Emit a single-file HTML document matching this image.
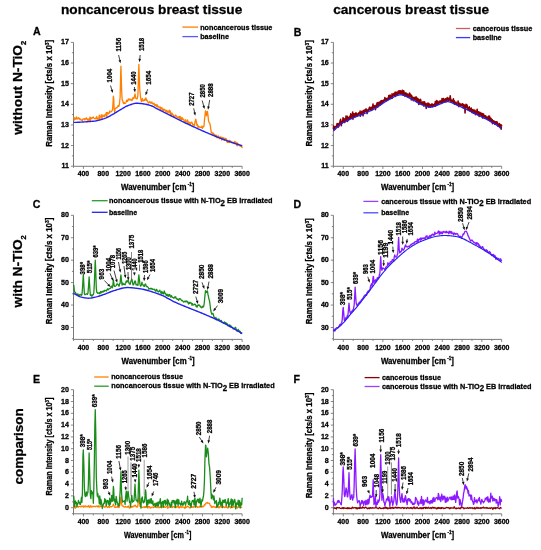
<!DOCTYPE html><html><head><meta charset="utf-8"><style>html,body{margin:0;padding:0;background:#fff}svg{display:block;will-change:transform;filter:blur(0.3px)}text{font-family:"Liberation Sans", sans-serif;stroke:#000;stroke-width:0.28px;paint-order:stroke}</style></head><body>
<svg width="541" height="550" viewBox="0 0 541 550">
<rect width="541" height="550" fill="#fff"/>
<text x="61" y="13.9" font-size="12.9" font-weight="bold" fill="#000" textLength="181.3" lengthAdjust="spacingAndGlyphs">noncancerous breast tissue</text>
<text x="333.2" y="13.9" font-size="12.9" font-weight="bold" fill="#000" textLength="156" lengthAdjust="spacingAndGlyphs">cancerous breast tissue</text>
<text transform="translate(22.4 134.7) rotate(-90)" font-size="13.3" font-weight="bold" textLength="94" lengthAdjust="spacingAndGlyphs">without N-TiO<tspan dy="3.4" font-size="7.4">2</tspan></text>
<text transform="translate(22.4 307.5) rotate(-90)" font-size="13.3" font-weight="bold" textLength="72.3" lengthAdjust="spacingAndGlyphs">with N-TiO<tspan dy="3.4" font-size="7.4">2</tspan></text>
<text transform="translate(22.6 484.5) rotate(-90)" font-size="13.5" font-weight="bold" textLength="76.3" lengthAdjust="spacingAndGlyphs">comparison</text>
<text x="32.9" y="35" font-size="10.6" text-anchor="start" font-weight="bold" fill="#000" >A</text>
<text x="293.7" y="35.5" font-size="10.6" text-anchor="start" font-weight="bold" fill="#000" >B</text>
<text x="32.7" y="208.2" font-size="10.6" text-anchor="start" font-weight="bold" fill="#000" >C</text>
<text x="293.5" y="208.4" font-size="10.6" text-anchor="start" font-weight="bold" fill="#000" >D</text>
<text x="33.1" y="382.9" font-size="10.6" text-anchor="start" font-weight="bold" fill="#000" >E</text>
<text x="293.5" y="382.7" font-size="10.6" text-anchor="start" font-weight="bold" fill="#000" >F</text>
<line x1="73.5" y1="42.4" x2="73.5" y2="166.3" stroke="#6a6a6a" stroke-width="0.9" />
<line x1="73.5" y1="166.3" x2="242.14" y2="166.3" stroke="#6a6a6a" stroke-width="0.9" />
<line x1="73.5" y1="166.3" x2="73.5" y2="167.9" stroke="#6a6a6a" stroke-width="0.8" />
<line x1="83.42" y1="166.3" x2="83.42" y2="168.9" stroke="#6a6a6a" stroke-width="0.8" />
<line x1="93.34" y1="166.3" x2="93.34" y2="167.9" stroke="#6a6a6a" stroke-width="0.8" />
<line x1="103.26" y1="166.3" x2="103.26" y2="168.9" stroke="#6a6a6a" stroke-width="0.8" />
<line x1="113.18" y1="166.3" x2="113.18" y2="167.9" stroke="#6a6a6a" stroke-width="0.8" />
<line x1="123.1" y1="166.3" x2="123.1" y2="168.9" stroke="#6a6a6a" stroke-width="0.8" />
<line x1="133.02" y1="166.3" x2="133.02" y2="167.9" stroke="#6a6a6a" stroke-width="0.8" />
<line x1="142.94" y1="166.3" x2="142.94" y2="168.9" stroke="#6a6a6a" stroke-width="0.8" />
<line x1="152.86" y1="166.3" x2="152.86" y2="167.9" stroke="#6a6a6a" stroke-width="0.8" />
<line x1="162.78" y1="166.3" x2="162.78" y2="168.9" stroke="#6a6a6a" stroke-width="0.8" />
<line x1="172.7" y1="166.3" x2="172.7" y2="167.9" stroke="#6a6a6a" stroke-width="0.8" />
<line x1="182.62" y1="166.3" x2="182.62" y2="168.9" stroke="#6a6a6a" stroke-width="0.8" />
<line x1="192.54" y1="166.3" x2="192.54" y2="167.9" stroke="#6a6a6a" stroke-width="0.8" />
<line x1="202.46" y1="166.3" x2="202.46" y2="168.9" stroke="#6a6a6a" stroke-width="0.8" />
<line x1="212.38" y1="166.3" x2="212.38" y2="167.9" stroke="#6a6a6a" stroke-width="0.8" />
<line x1="222.3" y1="166.3" x2="222.3" y2="168.9" stroke="#6a6a6a" stroke-width="0.8" />
<line x1="232.22" y1="166.3" x2="232.22" y2="167.9" stroke="#6a6a6a" stroke-width="0.8" />
<line x1="242.14" y1="166.3" x2="242.14" y2="168.9" stroke="#6a6a6a" stroke-width="0.8" />
<text x="83.42" y="176.2" font-size="6.95" text-anchor="middle" font-weight="bold" fill="#000" >400</text>
<text x="103.26" y="176.2" font-size="6.95" text-anchor="middle" font-weight="bold" fill="#000" >800</text>
<text x="123.1" y="176.2" font-size="6.95" text-anchor="middle" font-weight="bold" fill="#000" >1200</text>
<text x="142.94" y="176.2" font-size="6.95" text-anchor="middle" font-weight="bold" fill="#000" >1600</text>
<text x="162.78" y="176.2" font-size="6.95" text-anchor="middle" font-weight="bold" fill="#000" >2000</text>
<text x="182.62" y="176.2" font-size="6.95" text-anchor="middle" font-weight="bold" fill="#000" >2400</text>
<text x="202.46" y="176.2" font-size="6.95" text-anchor="middle" font-weight="bold" fill="#000" >2800</text>
<text x="222.3" y="176.2" font-size="6.95" text-anchor="middle" font-weight="bold" fill="#000" >3200</text>
<text x="242.14" y="176.2" font-size="6.95" text-anchor="middle" font-weight="bold" fill="#000" >3600</text>
<line x1="73.5" y1="155.86" x2="71.9" y2="155.86" stroke="#6a6a6a" stroke-width="0.8" />
<line x1="73.5" y1="135.23" x2="71.9" y2="135.23" stroke="#6a6a6a" stroke-width="0.8" />
<line x1="73.5" y1="114.6" x2="71.9" y2="114.6" stroke="#6a6a6a" stroke-width="0.8" />
<line x1="73.5" y1="93.97" x2="71.9" y2="93.97" stroke="#6a6a6a" stroke-width="0.8" />
<line x1="73.5" y1="73.34" x2="71.9" y2="73.34" stroke="#6a6a6a" stroke-width="0.8" />
<line x1="73.5" y1="52.71" x2="71.9" y2="52.71" stroke="#6a6a6a" stroke-width="0.8" />
<line x1="73.5" y1="166.18" x2="70.9" y2="166.18" stroke="#6a6a6a" stroke-width="0.8" />
<text x="68.9" y="168.18" font-size="7.1" text-anchor="end" font-weight="bold" fill="#000" >11</text>
<line x1="73.5" y1="145.55" x2="70.9" y2="145.55" stroke="#6a6a6a" stroke-width="0.8" />
<text x="68.9" y="147.55" font-size="7.1" text-anchor="end" font-weight="bold" fill="#000" >12</text>
<line x1="73.5" y1="124.92" x2="70.9" y2="124.92" stroke="#6a6a6a" stroke-width="0.8" />
<text x="68.9" y="126.92" font-size="7.1" text-anchor="end" font-weight="bold" fill="#000" >13</text>
<line x1="73.5" y1="104.29" x2="70.9" y2="104.29" stroke="#6a6a6a" stroke-width="0.8" />
<text x="68.9" y="106.29" font-size="7.1" text-anchor="end" font-weight="bold" fill="#000" >14</text>
<line x1="73.5" y1="83.66" x2="70.9" y2="83.66" stroke="#6a6a6a" stroke-width="0.8" />
<text x="68.9" y="85.66" font-size="7.1" text-anchor="end" font-weight="bold" fill="#000" >15</text>
<line x1="73.5" y1="63.03" x2="70.9" y2="63.03" stroke="#6a6a6a" stroke-width="0.8" />
<text x="68.9" y="65.03" font-size="7.1" text-anchor="end" font-weight="bold" fill="#000" >16</text>
<line x1="73.5" y1="42.4" x2="70.9" y2="42.4" stroke="#6a6a6a" stroke-width="0.8" />
<text x="68.9" y="44.4" font-size="7.1" text-anchor="end" font-weight="bold" fill="#000" >17</text>
<line x1="333.4" y1="42.4" x2="333.4" y2="166.3" stroke="#6a6a6a" stroke-width="0.9" />
<line x1="333.4" y1="166.3" x2="501.67" y2="166.3" stroke="#6a6a6a" stroke-width="0.9" />
<line x1="333.4" y1="166.3" x2="333.4" y2="167.9" stroke="#6a6a6a" stroke-width="0.8" />
<line x1="343.3" y1="166.3" x2="343.3" y2="168.9" stroke="#6a6a6a" stroke-width="0.8" />
<line x1="353.2" y1="166.3" x2="353.2" y2="167.9" stroke="#6a6a6a" stroke-width="0.8" />
<line x1="363.09" y1="166.3" x2="363.09" y2="168.9" stroke="#6a6a6a" stroke-width="0.8" />
<line x1="372.99" y1="166.3" x2="372.99" y2="167.9" stroke="#6a6a6a" stroke-width="0.8" />
<line x1="382.89" y1="166.3" x2="382.89" y2="168.9" stroke="#6a6a6a" stroke-width="0.8" />
<line x1="392.79" y1="166.3" x2="392.79" y2="167.9" stroke="#6a6a6a" stroke-width="0.8" />
<line x1="402.69" y1="166.3" x2="402.69" y2="168.9" stroke="#6a6a6a" stroke-width="0.8" />
<line x1="412.58" y1="166.3" x2="412.58" y2="167.9" stroke="#6a6a6a" stroke-width="0.8" />
<line x1="422.48" y1="166.3" x2="422.48" y2="168.9" stroke="#6a6a6a" stroke-width="0.8" />
<line x1="432.38" y1="166.3" x2="432.38" y2="167.9" stroke="#6a6a6a" stroke-width="0.8" />
<line x1="442.28" y1="166.3" x2="442.28" y2="168.9" stroke="#6a6a6a" stroke-width="0.8" />
<line x1="452.18" y1="166.3" x2="452.18" y2="167.9" stroke="#6a6a6a" stroke-width="0.8" />
<line x1="462.07" y1="166.3" x2="462.07" y2="168.9" stroke="#6a6a6a" stroke-width="0.8" />
<line x1="471.97" y1="166.3" x2="471.97" y2="167.9" stroke="#6a6a6a" stroke-width="0.8" />
<line x1="481.87" y1="166.3" x2="481.87" y2="168.9" stroke="#6a6a6a" stroke-width="0.8" />
<line x1="491.77" y1="166.3" x2="491.77" y2="167.9" stroke="#6a6a6a" stroke-width="0.8" />
<line x1="501.67" y1="166.3" x2="501.67" y2="168.9" stroke="#6a6a6a" stroke-width="0.8" />
<text x="343.3" y="176.2" font-size="6.95" text-anchor="middle" font-weight="bold" fill="#000" >400</text>
<text x="363.09" y="176.2" font-size="6.95" text-anchor="middle" font-weight="bold" fill="#000" >800</text>
<text x="382.89" y="176.2" font-size="6.95" text-anchor="middle" font-weight="bold" fill="#000" >1200</text>
<text x="402.69" y="176.2" font-size="6.95" text-anchor="middle" font-weight="bold" fill="#000" >1600</text>
<text x="422.48" y="176.2" font-size="6.95" text-anchor="middle" font-weight="bold" fill="#000" >2000</text>
<text x="442.28" y="176.2" font-size="6.95" text-anchor="middle" font-weight="bold" fill="#000" >2400</text>
<text x="462.07" y="176.2" font-size="6.95" text-anchor="middle" font-weight="bold" fill="#000" >2800</text>
<text x="481.87" y="176.2" font-size="6.95" text-anchor="middle" font-weight="bold" fill="#000" >3200</text>
<text x="501.67" y="176.2" font-size="6.95" text-anchor="middle" font-weight="bold" fill="#000" >3600</text>
<line x1="333.4" y1="155.86" x2="331.8" y2="155.86" stroke="#6a6a6a" stroke-width="0.8" />
<line x1="333.4" y1="135.23" x2="331.8" y2="135.23" stroke="#6a6a6a" stroke-width="0.8" />
<line x1="333.4" y1="114.6" x2="331.8" y2="114.6" stroke="#6a6a6a" stroke-width="0.8" />
<line x1="333.4" y1="93.97" x2="331.8" y2="93.97" stroke="#6a6a6a" stroke-width="0.8" />
<line x1="333.4" y1="73.34" x2="331.8" y2="73.34" stroke="#6a6a6a" stroke-width="0.8" />
<line x1="333.4" y1="52.71" x2="331.8" y2="52.71" stroke="#6a6a6a" stroke-width="0.8" />
<line x1="333.4" y1="166.18" x2="330.8" y2="166.18" stroke="#6a6a6a" stroke-width="0.8" />
<text x="328.8" y="168.18" font-size="7.1" text-anchor="end" font-weight="bold" fill="#000" >11</text>
<line x1="333.4" y1="145.55" x2="330.8" y2="145.55" stroke="#6a6a6a" stroke-width="0.8" />
<text x="328.8" y="147.55" font-size="7.1" text-anchor="end" font-weight="bold" fill="#000" >12</text>
<line x1="333.4" y1="124.92" x2="330.8" y2="124.92" stroke="#6a6a6a" stroke-width="0.8" />
<text x="328.8" y="126.92" font-size="7.1" text-anchor="end" font-weight="bold" fill="#000" >13</text>
<line x1="333.4" y1="104.29" x2="330.8" y2="104.29" stroke="#6a6a6a" stroke-width="0.8" />
<text x="328.8" y="106.29" font-size="7.1" text-anchor="end" font-weight="bold" fill="#000" >14</text>
<line x1="333.4" y1="83.66" x2="330.8" y2="83.66" stroke="#6a6a6a" stroke-width="0.8" />
<text x="328.8" y="85.66" font-size="7.1" text-anchor="end" font-weight="bold" fill="#000" >15</text>
<line x1="333.4" y1="63.03" x2="330.8" y2="63.03" stroke="#6a6a6a" stroke-width="0.8" />
<text x="328.8" y="65.03" font-size="7.1" text-anchor="end" font-weight="bold" fill="#000" >16</text>
<line x1="333.4" y1="42.4" x2="330.8" y2="42.4" stroke="#6a6a6a" stroke-width="0.8" />
<text x="328.8" y="44.4" font-size="7.1" text-anchor="end" font-weight="bold" fill="#000" >17</text>
<line x1="73.5" y1="215.3" x2="73.5" y2="339.4" stroke="#6a6a6a" stroke-width="0.9" />
<line x1="73.5" y1="339.4" x2="242.14" y2="339.4" stroke="#6a6a6a" stroke-width="0.9" />
<line x1="73.5" y1="339.4" x2="73.5" y2="341" stroke="#6a6a6a" stroke-width="0.8" />
<line x1="83.42" y1="339.4" x2="83.42" y2="342" stroke="#6a6a6a" stroke-width="0.8" />
<line x1="93.34" y1="339.4" x2="93.34" y2="341" stroke="#6a6a6a" stroke-width="0.8" />
<line x1="103.26" y1="339.4" x2="103.26" y2="342" stroke="#6a6a6a" stroke-width="0.8" />
<line x1="113.18" y1="339.4" x2="113.18" y2="341" stroke="#6a6a6a" stroke-width="0.8" />
<line x1="123.1" y1="339.4" x2="123.1" y2="342" stroke="#6a6a6a" stroke-width="0.8" />
<line x1="133.02" y1="339.4" x2="133.02" y2="341" stroke="#6a6a6a" stroke-width="0.8" />
<line x1="142.94" y1="339.4" x2="142.94" y2="342" stroke="#6a6a6a" stroke-width="0.8" />
<line x1="152.86" y1="339.4" x2="152.86" y2="341" stroke="#6a6a6a" stroke-width="0.8" />
<line x1="162.78" y1="339.4" x2="162.78" y2="342" stroke="#6a6a6a" stroke-width="0.8" />
<line x1="172.7" y1="339.4" x2="172.7" y2="341" stroke="#6a6a6a" stroke-width="0.8" />
<line x1="182.62" y1="339.4" x2="182.62" y2="342" stroke="#6a6a6a" stroke-width="0.8" />
<line x1="192.54" y1="339.4" x2="192.54" y2="341" stroke="#6a6a6a" stroke-width="0.8" />
<line x1="202.46" y1="339.4" x2="202.46" y2="342" stroke="#6a6a6a" stroke-width="0.8" />
<line x1="212.38" y1="339.4" x2="212.38" y2="341" stroke="#6a6a6a" stroke-width="0.8" />
<line x1="222.3" y1="339.4" x2="222.3" y2="342" stroke="#6a6a6a" stroke-width="0.8" />
<line x1="232.22" y1="339.4" x2="232.22" y2="341" stroke="#6a6a6a" stroke-width="0.8" />
<line x1="242.14" y1="339.4" x2="242.14" y2="342" stroke="#6a6a6a" stroke-width="0.8" />
<text x="83.42" y="349.7" font-size="6.95" text-anchor="middle" font-weight="bold" fill="#000" >400</text>
<text x="103.26" y="349.7" font-size="6.95" text-anchor="middle" font-weight="bold" fill="#000" >800</text>
<text x="123.1" y="349.7" font-size="6.95" text-anchor="middle" font-weight="bold" fill="#000" >1200</text>
<text x="142.94" y="349.7" font-size="6.95" text-anchor="middle" font-weight="bold" fill="#000" >1600</text>
<text x="162.78" y="349.7" font-size="6.95" text-anchor="middle" font-weight="bold" fill="#000" >2000</text>
<text x="182.62" y="349.7" font-size="6.95" text-anchor="middle" font-weight="bold" fill="#000" >2400</text>
<text x="202.46" y="349.7" font-size="6.95" text-anchor="middle" font-weight="bold" fill="#000" >2800</text>
<text x="222.3" y="349.7" font-size="6.95" text-anchor="middle" font-weight="bold" fill="#000" >3200</text>
<text x="242.14" y="349.7" font-size="6.95" text-anchor="middle" font-weight="bold" fill="#000" >3600</text>
<line x1="73.5" y1="338.72" x2="71.9" y2="338.72" stroke="#6a6a6a" stroke-width="0.8" />
<line x1="73.5" y1="316.28" x2="71.9" y2="316.28" stroke="#6a6a6a" stroke-width="0.8" />
<line x1="73.5" y1="293.84" x2="71.9" y2="293.84" stroke="#6a6a6a" stroke-width="0.8" />
<line x1="73.5" y1="271.4" x2="71.9" y2="271.4" stroke="#6a6a6a" stroke-width="0.8" />
<line x1="73.5" y1="248.96" x2="71.9" y2="248.96" stroke="#6a6a6a" stroke-width="0.8" />
<line x1="73.5" y1="226.52" x2="71.9" y2="226.52" stroke="#6a6a6a" stroke-width="0.8" />
<line x1="73.5" y1="327.5" x2="70.9" y2="327.5" stroke="#6a6a6a" stroke-width="0.8" />
<text x="68.9" y="329.5" font-size="7.1" text-anchor="end" font-weight="bold" fill="#000" >30</text>
<line x1="73.5" y1="305.06" x2="70.9" y2="305.06" stroke="#6a6a6a" stroke-width="0.8" />
<text x="68.9" y="307.06" font-size="7.1" text-anchor="end" font-weight="bold" fill="#000" >40</text>
<line x1="73.5" y1="282.62" x2="70.9" y2="282.62" stroke="#6a6a6a" stroke-width="0.8" />
<text x="68.9" y="284.62" font-size="7.1" text-anchor="end" font-weight="bold" fill="#000" >50</text>
<line x1="73.5" y1="260.18" x2="70.9" y2="260.18" stroke="#6a6a6a" stroke-width="0.8" />
<text x="68.9" y="262.18" font-size="7.1" text-anchor="end" font-weight="bold" fill="#000" >60</text>
<line x1="73.5" y1="237.74" x2="70.9" y2="237.74" stroke="#6a6a6a" stroke-width="0.8" />
<text x="68.9" y="239.74" font-size="7.1" text-anchor="end" font-weight="bold" fill="#000" >70</text>
<line x1="73.5" y1="215.3" x2="70.9" y2="215.3" stroke="#6a6a6a" stroke-width="0.8" />
<text x="68.9" y="217.3" font-size="7.1" text-anchor="end" font-weight="bold" fill="#000" >80</text>
<line x1="333.4" y1="215.3" x2="333.4" y2="339.4" stroke="#6a6a6a" stroke-width="0.9" />
<line x1="333.4" y1="339.4" x2="501.67" y2="339.4" stroke="#6a6a6a" stroke-width="0.9" />
<line x1="333.4" y1="339.4" x2="333.4" y2="341" stroke="#6a6a6a" stroke-width="0.8" />
<line x1="343.3" y1="339.4" x2="343.3" y2="342" stroke="#6a6a6a" stroke-width="0.8" />
<line x1="353.2" y1="339.4" x2="353.2" y2="341" stroke="#6a6a6a" stroke-width="0.8" />
<line x1="363.09" y1="339.4" x2="363.09" y2="342" stroke="#6a6a6a" stroke-width="0.8" />
<line x1="372.99" y1="339.4" x2="372.99" y2="341" stroke="#6a6a6a" stroke-width="0.8" />
<line x1="382.89" y1="339.4" x2="382.89" y2="342" stroke="#6a6a6a" stroke-width="0.8" />
<line x1="392.79" y1="339.4" x2="392.79" y2="341" stroke="#6a6a6a" stroke-width="0.8" />
<line x1="402.69" y1="339.4" x2="402.69" y2="342" stroke="#6a6a6a" stroke-width="0.8" />
<line x1="412.58" y1="339.4" x2="412.58" y2="341" stroke="#6a6a6a" stroke-width="0.8" />
<line x1="422.48" y1="339.4" x2="422.48" y2="342" stroke="#6a6a6a" stroke-width="0.8" />
<line x1="432.38" y1="339.4" x2="432.38" y2="341" stroke="#6a6a6a" stroke-width="0.8" />
<line x1="442.28" y1="339.4" x2="442.28" y2="342" stroke="#6a6a6a" stroke-width="0.8" />
<line x1="452.18" y1="339.4" x2="452.18" y2="341" stroke="#6a6a6a" stroke-width="0.8" />
<line x1="462.07" y1="339.4" x2="462.07" y2="342" stroke="#6a6a6a" stroke-width="0.8" />
<line x1="471.97" y1="339.4" x2="471.97" y2="341" stroke="#6a6a6a" stroke-width="0.8" />
<line x1="481.87" y1="339.4" x2="481.87" y2="342" stroke="#6a6a6a" stroke-width="0.8" />
<line x1="491.77" y1="339.4" x2="491.77" y2="341" stroke="#6a6a6a" stroke-width="0.8" />
<line x1="501.67" y1="339.4" x2="501.67" y2="342" stroke="#6a6a6a" stroke-width="0.8" />
<text x="343.3" y="349.7" font-size="6.95" text-anchor="middle" font-weight="bold" fill="#000" >400</text>
<text x="363.09" y="349.7" font-size="6.95" text-anchor="middle" font-weight="bold" fill="#000" >800</text>
<text x="382.89" y="349.7" font-size="6.95" text-anchor="middle" font-weight="bold" fill="#000" >1200</text>
<text x="402.69" y="349.7" font-size="6.95" text-anchor="middle" font-weight="bold" fill="#000" >1600</text>
<text x="422.48" y="349.7" font-size="6.95" text-anchor="middle" font-weight="bold" fill="#000" >2000</text>
<text x="442.28" y="349.7" font-size="6.95" text-anchor="middle" font-weight="bold" fill="#000" >2400</text>
<text x="462.07" y="349.7" font-size="6.95" text-anchor="middle" font-weight="bold" fill="#000" >2800</text>
<text x="481.87" y="349.7" font-size="6.95" text-anchor="middle" font-weight="bold" fill="#000" >3200</text>
<text x="501.67" y="349.7" font-size="6.95" text-anchor="middle" font-weight="bold" fill="#000" >3600</text>
<line x1="333.4" y1="338.72" x2="331.8" y2="338.72" stroke="#6a6a6a" stroke-width="0.8" />
<line x1="333.4" y1="316.28" x2="331.8" y2="316.28" stroke="#6a6a6a" stroke-width="0.8" />
<line x1="333.4" y1="293.84" x2="331.8" y2="293.84" stroke="#6a6a6a" stroke-width="0.8" />
<line x1="333.4" y1="271.4" x2="331.8" y2="271.4" stroke="#6a6a6a" stroke-width="0.8" />
<line x1="333.4" y1="248.96" x2="331.8" y2="248.96" stroke="#6a6a6a" stroke-width="0.8" />
<line x1="333.4" y1="226.52" x2="331.8" y2="226.52" stroke="#6a6a6a" stroke-width="0.8" />
<line x1="333.4" y1="327.5" x2="330.8" y2="327.5" stroke="#6a6a6a" stroke-width="0.8" />
<text x="328.8" y="329.5" font-size="7.1" text-anchor="end" font-weight="bold" fill="#000" >30</text>
<line x1="333.4" y1="305.06" x2="330.8" y2="305.06" stroke="#6a6a6a" stroke-width="0.8" />
<text x="328.8" y="307.06" font-size="7.1" text-anchor="end" font-weight="bold" fill="#000" >40</text>
<line x1="333.4" y1="282.62" x2="330.8" y2="282.62" stroke="#6a6a6a" stroke-width="0.8" />
<text x="328.8" y="284.62" font-size="7.1" text-anchor="end" font-weight="bold" fill="#000" >50</text>
<line x1="333.4" y1="260.18" x2="330.8" y2="260.18" stroke="#6a6a6a" stroke-width="0.8" />
<text x="328.8" y="262.18" font-size="7.1" text-anchor="end" font-weight="bold" fill="#000" >60</text>
<line x1="333.4" y1="237.74" x2="330.8" y2="237.74" stroke="#6a6a6a" stroke-width="0.8" />
<text x="328.8" y="239.74" font-size="7.1" text-anchor="end" font-weight="bold" fill="#000" >70</text>
<line x1="333.4" y1="215.3" x2="330.8" y2="215.3" stroke="#6a6a6a" stroke-width="0.8" />
<text x="328.8" y="217.3" font-size="7.1" text-anchor="end" font-weight="bold" fill="#000" >80</text>
<line x1="73.5" y1="389.7" x2="73.5" y2="513.8" stroke="#6a6a6a" stroke-width="0.9" />
<line x1="73.5" y1="513.8" x2="242.14" y2="513.8" stroke="#6a6a6a" stroke-width="0.9" />
<line x1="73.5" y1="513.8" x2="73.5" y2="515.4" stroke="#6a6a6a" stroke-width="0.8" />
<line x1="83.42" y1="513.8" x2="83.42" y2="516.4" stroke="#6a6a6a" stroke-width="0.8" />
<line x1="93.34" y1="513.8" x2="93.34" y2="515.4" stroke="#6a6a6a" stroke-width="0.8" />
<line x1="103.26" y1="513.8" x2="103.26" y2="516.4" stroke="#6a6a6a" stroke-width="0.8" />
<line x1="113.18" y1="513.8" x2="113.18" y2="515.4" stroke="#6a6a6a" stroke-width="0.8" />
<line x1="123.1" y1="513.8" x2="123.1" y2="516.4" stroke="#6a6a6a" stroke-width="0.8" />
<line x1="133.02" y1="513.8" x2="133.02" y2="515.4" stroke="#6a6a6a" stroke-width="0.8" />
<line x1="142.94" y1="513.8" x2="142.94" y2="516.4" stroke="#6a6a6a" stroke-width="0.8" />
<line x1="152.86" y1="513.8" x2="152.86" y2="515.4" stroke="#6a6a6a" stroke-width="0.8" />
<line x1="162.78" y1="513.8" x2="162.78" y2="516.4" stroke="#6a6a6a" stroke-width="0.8" />
<line x1="172.7" y1="513.8" x2="172.7" y2="515.4" stroke="#6a6a6a" stroke-width="0.8" />
<line x1="182.62" y1="513.8" x2="182.62" y2="516.4" stroke="#6a6a6a" stroke-width="0.8" />
<line x1="192.54" y1="513.8" x2="192.54" y2="515.4" stroke="#6a6a6a" stroke-width="0.8" />
<line x1="202.46" y1="513.8" x2="202.46" y2="516.4" stroke="#6a6a6a" stroke-width="0.8" />
<line x1="212.38" y1="513.8" x2="212.38" y2="515.4" stroke="#6a6a6a" stroke-width="0.8" />
<line x1="222.3" y1="513.8" x2="222.3" y2="516.4" stroke="#6a6a6a" stroke-width="0.8" />
<line x1="232.22" y1="513.8" x2="232.22" y2="515.4" stroke="#6a6a6a" stroke-width="0.8" />
<line x1="242.14" y1="513.8" x2="242.14" y2="516.4" stroke="#6a6a6a" stroke-width="0.8" />
<text x="83.42" y="523.7" font-size="6.95" text-anchor="middle" font-weight="bold" fill="#000" >400</text>
<text x="103.26" y="523.7" font-size="6.95" text-anchor="middle" font-weight="bold" fill="#000" >800</text>
<text x="123.1" y="523.7" font-size="6.95" text-anchor="middle" font-weight="bold" fill="#000" >1200</text>
<text x="142.94" y="523.7" font-size="6.95" text-anchor="middle" font-weight="bold" fill="#000" >1600</text>
<text x="162.78" y="523.7" font-size="6.95" text-anchor="middle" font-weight="bold" fill="#000" >2000</text>
<text x="182.62" y="523.7" font-size="6.95" text-anchor="middle" font-weight="bold" fill="#000" >2400</text>
<text x="202.46" y="523.7" font-size="6.95" text-anchor="middle" font-weight="bold" fill="#000" >2800</text>
<text x="222.3" y="523.7" font-size="6.95" text-anchor="middle" font-weight="bold" fill="#000" >3200</text>
<text x="242.14" y="523.7" font-size="6.95" text-anchor="middle" font-weight="bold" fill="#000" >3600</text>
<line x1="73.5" y1="513.6" x2="71.9" y2="513.6" stroke="#6a6a6a" stroke-width="0.8" />
<line x1="73.5" y1="501.8" x2="71.9" y2="501.8" stroke="#6a6a6a" stroke-width="0.8" />
<line x1="73.5" y1="490" x2="71.9" y2="490" stroke="#6a6a6a" stroke-width="0.8" />
<line x1="73.5" y1="478.2" x2="71.9" y2="478.2" stroke="#6a6a6a" stroke-width="0.8" />
<line x1="73.5" y1="466.4" x2="71.9" y2="466.4" stroke="#6a6a6a" stroke-width="0.8" />
<line x1="73.5" y1="454.6" x2="71.9" y2="454.6" stroke="#6a6a6a" stroke-width="0.8" />
<line x1="73.5" y1="442.8" x2="71.9" y2="442.8" stroke="#6a6a6a" stroke-width="0.8" />
<line x1="73.5" y1="431" x2="71.9" y2="431" stroke="#6a6a6a" stroke-width="0.8" />
<line x1="73.5" y1="419.2" x2="71.9" y2="419.2" stroke="#6a6a6a" stroke-width="0.8" />
<line x1="73.5" y1="407.4" x2="71.9" y2="407.4" stroke="#6a6a6a" stroke-width="0.8" />
<line x1="73.5" y1="395.6" x2="71.9" y2="395.6" stroke="#6a6a6a" stroke-width="0.8" />
<line x1="73.5" y1="507.7" x2="70.9" y2="507.7" stroke="#6a6a6a" stroke-width="0.8" />
<text x="68.9" y="509.7" font-size="7.1" text-anchor="end" font-weight="bold" fill="#000" >0</text>
<line x1="73.5" y1="495.9" x2="70.9" y2="495.9" stroke="#6a6a6a" stroke-width="0.8" />
<text x="68.9" y="497.9" font-size="7.1" text-anchor="end" font-weight="bold" fill="#000" >2</text>
<line x1="73.5" y1="484.1" x2="70.9" y2="484.1" stroke="#6a6a6a" stroke-width="0.8" />
<text x="68.9" y="486.1" font-size="7.1" text-anchor="end" font-weight="bold" fill="#000" >4</text>
<line x1="73.5" y1="472.3" x2="70.9" y2="472.3" stroke="#6a6a6a" stroke-width="0.8" />
<text x="68.9" y="474.3" font-size="7.1" text-anchor="end" font-weight="bold" fill="#000" >6</text>
<line x1="73.5" y1="460.5" x2="70.9" y2="460.5" stroke="#6a6a6a" stroke-width="0.8" />
<text x="68.9" y="462.5" font-size="7.1" text-anchor="end" font-weight="bold" fill="#000" >8</text>
<line x1="73.5" y1="448.7" x2="70.9" y2="448.7" stroke="#6a6a6a" stroke-width="0.8" />
<text x="68.9" y="450.7" font-size="7.1" text-anchor="end" font-weight="bold" fill="#000" >10</text>
<line x1="73.5" y1="436.9" x2="70.9" y2="436.9" stroke="#6a6a6a" stroke-width="0.8" />
<text x="68.9" y="438.9" font-size="7.1" text-anchor="end" font-weight="bold" fill="#000" >12</text>
<line x1="73.5" y1="425.1" x2="70.9" y2="425.1" stroke="#6a6a6a" stroke-width="0.8" />
<text x="68.9" y="427.1" font-size="7.1" text-anchor="end" font-weight="bold" fill="#000" >14</text>
<line x1="73.5" y1="413.3" x2="70.9" y2="413.3" stroke="#6a6a6a" stroke-width="0.8" />
<text x="68.9" y="415.3" font-size="7.1" text-anchor="end" font-weight="bold" fill="#000" >16</text>
<line x1="73.5" y1="401.5" x2="70.9" y2="401.5" stroke="#6a6a6a" stroke-width="0.8" />
<text x="68.9" y="403.5" font-size="7.1" text-anchor="end" font-weight="bold" fill="#000" >18</text>
<line x1="73.5" y1="389.7" x2="70.9" y2="389.7" stroke="#6a6a6a" stroke-width="0.8" />
<text x="68.9" y="391.7" font-size="7.1" text-anchor="end" font-weight="bold" fill="#000" >20</text>
<line x1="333.4" y1="389.7" x2="333.4" y2="513.8" stroke="#6a6a6a" stroke-width="0.9" />
<line x1="333.4" y1="513.8" x2="501.67" y2="513.8" stroke="#6a6a6a" stroke-width="0.9" />
<line x1="333.4" y1="513.8" x2="333.4" y2="515.4" stroke="#6a6a6a" stroke-width="0.8" />
<line x1="343.3" y1="513.8" x2="343.3" y2="516.4" stroke="#6a6a6a" stroke-width="0.8" />
<line x1="353.2" y1="513.8" x2="353.2" y2="515.4" stroke="#6a6a6a" stroke-width="0.8" />
<line x1="363.09" y1="513.8" x2="363.09" y2="516.4" stroke="#6a6a6a" stroke-width="0.8" />
<line x1="372.99" y1="513.8" x2="372.99" y2="515.4" stroke="#6a6a6a" stroke-width="0.8" />
<line x1="382.89" y1="513.8" x2="382.89" y2="516.4" stroke="#6a6a6a" stroke-width="0.8" />
<line x1="392.79" y1="513.8" x2="392.79" y2="515.4" stroke="#6a6a6a" stroke-width="0.8" />
<line x1="402.69" y1="513.8" x2="402.69" y2="516.4" stroke="#6a6a6a" stroke-width="0.8" />
<line x1="412.58" y1="513.8" x2="412.58" y2="515.4" stroke="#6a6a6a" stroke-width="0.8" />
<line x1="422.48" y1="513.8" x2="422.48" y2="516.4" stroke="#6a6a6a" stroke-width="0.8" />
<line x1="432.38" y1="513.8" x2="432.38" y2="515.4" stroke="#6a6a6a" stroke-width="0.8" />
<line x1="442.28" y1="513.8" x2="442.28" y2="516.4" stroke="#6a6a6a" stroke-width="0.8" />
<line x1="452.18" y1="513.8" x2="452.18" y2="515.4" stroke="#6a6a6a" stroke-width="0.8" />
<line x1="462.07" y1="513.8" x2="462.07" y2="516.4" stroke="#6a6a6a" stroke-width="0.8" />
<line x1="471.97" y1="513.8" x2="471.97" y2="515.4" stroke="#6a6a6a" stroke-width="0.8" />
<line x1="481.87" y1="513.8" x2="481.87" y2="516.4" stroke="#6a6a6a" stroke-width="0.8" />
<line x1="491.77" y1="513.8" x2="491.77" y2="515.4" stroke="#6a6a6a" stroke-width="0.8" />
<line x1="501.67" y1="513.8" x2="501.67" y2="516.4" stroke="#6a6a6a" stroke-width="0.8" />
<text x="343.3" y="523.7" font-size="6.95" text-anchor="middle" font-weight="bold" fill="#000" >400</text>
<text x="363.09" y="523.7" font-size="6.95" text-anchor="middle" font-weight="bold" fill="#000" >800</text>
<text x="382.89" y="523.7" font-size="6.95" text-anchor="middle" font-weight="bold" fill="#000" >1200</text>
<text x="402.69" y="523.7" font-size="6.95" text-anchor="middle" font-weight="bold" fill="#000" >1600</text>
<text x="422.48" y="523.7" font-size="6.95" text-anchor="middle" font-weight="bold" fill="#000" >2000</text>
<text x="442.28" y="523.7" font-size="6.95" text-anchor="middle" font-weight="bold" fill="#000" >2400</text>
<text x="462.07" y="523.7" font-size="6.95" text-anchor="middle" font-weight="bold" fill="#000" >2800</text>
<text x="481.87" y="523.7" font-size="6.95" text-anchor="middle" font-weight="bold" fill="#000" >3200</text>
<text x="501.67" y="523.7" font-size="6.95" text-anchor="middle" font-weight="bold" fill="#000" >3600</text>
<line x1="333.4" y1="513.6" x2="331.8" y2="513.6" stroke="#6a6a6a" stroke-width="0.8" />
<line x1="333.4" y1="501.8" x2="331.8" y2="501.8" stroke="#6a6a6a" stroke-width="0.8" />
<line x1="333.4" y1="490" x2="331.8" y2="490" stroke="#6a6a6a" stroke-width="0.8" />
<line x1="333.4" y1="478.2" x2="331.8" y2="478.2" stroke="#6a6a6a" stroke-width="0.8" />
<line x1="333.4" y1="466.4" x2="331.8" y2="466.4" stroke="#6a6a6a" stroke-width="0.8" />
<line x1="333.4" y1="454.6" x2="331.8" y2="454.6" stroke="#6a6a6a" stroke-width="0.8" />
<line x1="333.4" y1="442.8" x2="331.8" y2="442.8" stroke="#6a6a6a" stroke-width="0.8" />
<line x1="333.4" y1="431" x2="331.8" y2="431" stroke="#6a6a6a" stroke-width="0.8" />
<line x1="333.4" y1="419.2" x2="331.8" y2="419.2" stroke="#6a6a6a" stroke-width="0.8" />
<line x1="333.4" y1="407.4" x2="331.8" y2="407.4" stroke="#6a6a6a" stroke-width="0.8" />
<line x1="333.4" y1="395.6" x2="331.8" y2="395.6" stroke="#6a6a6a" stroke-width="0.8" />
<line x1="333.4" y1="507.7" x2="330.8" y2="507.7" stroke="#6a6a6a" stroke-width="0.8" />
<text x="328.8" y="509.7" font-size="7.1" text-anchor="end" font-weight="bold" fill="#000" >0</text>
<line x1="333.4" y1="495.9" x2="330.8" y2="495.9" stroke="#6a6a6a" stroke-width="0.8" />
<text x="328.8" y="497.9" font-size="7.1" text-anchor="end" font-weight="bold" fill="#000" >2</text>
<line x1="333.4" y1="484.1" x2="330.8" y2="484.1" stroke="#6a6a6a" stroke-width="0.8" />
<text x="328.8" y="486.1" font-size="7.1" text-anchor="end" font-weight="bold" fill="#000" >4</text>
<line x1="333.4" y1="472.3" x2="330.8" y2="472.3" stroke="#6a6a6a" stroke-width="0.8" />
<text x="328.8" y="474.3" font-size="7.1" text-anchor="end" font-weight="bold" fill="#000" >6</text>
<line x1="333.4" y1="460.5" x2="330.8" y2="460.5" stroke="#6a6a6a" stroke-width="0.8" />
<text x="328.8" y="462.5" font-size="7.1" text-anchor="end" font-weight="bold" fill="#000" >8</text>
<line x1="333.4" y1="448.7" x2="330.8" y2="448.7" stroke="#6a6a6a" stroke-width="0.8" />
<text x="328.8" y="450.7" font-size="7.1" text-anchor="end" font-weight="bold" fill="#000" >10</text>
<line x1="333.4" y1="436.9" x2="330.8" y2="436.9" stroke="#6a6a6a" stroke-width="0.8" />
<text x="328.8" y="438.9" font-size="7.1" text-anchor="end" font-weight="bold" fill="#000" >12</text>
<line x1="333.4" y1="425.1" x2="330.8" y2="425.1" stroke="#6a6a6a" stroke-width="0.8" />
<text x="328.8" y="427.1" font-size="7.1" text-anchor="end" font-weight="bold" fill="#000" >14</text>
<line x1="333.4" y1="413.3" x2="330.8" y2="413.3" stroke="#6a6a6a" stroke-width="0.8" />
<text x="328.8" y="415.3" font-size="7.1" text-anchor="end" font-weight="bold" fill="#000" >16</text>
<line x1="333.4" y1="401.5" x2="330.8" y2="401.5" stroke="#6a6a6a" stroke-width="0.8" />
<text x="328.8" y="403.5" font-size="7.1" text-anchor="end" font-weight="bold" fill="#000" >18</text>
<line x1="333.4" y1="389.7" x2="330.8" y2="389.7" stroke="#6a6a6a" stroke-width="0.8" />
<text x="328.8" y="391.7" font-size="7.1" text-anchor="end" font-weight="bold" fill="#000" >20</text>
<text x="121.1" y="190.2" font-size="8.6" font-weight="bold" textLength="73.4" lengthAdjust="spacingAndGlyphs">Wavenumber [cm<tspan dy="-3.8" font-size="5"> -1</tspan><tspan dy="3.8">]</tspan></text>
<text x="381.1" y="190" font-size="8.6" font-weight="bold" textLength="73" lengthAdjust="spacingAndGlyphs">Wavenumber [cm<tspan dy="-3.8" font-size="5"> -1</tspan><tspan dy="3.8">]</tspan></text>
<text x="121.5" y="363.6" font-size="8.6" font-weight="bold" textLength="73.2" lengthAdjust="spacingAndGlyphs">Wavenumber [cm<tspan dy="-3.8" font-size="5"> -1</tspan><tspan dy="3.8">]</tspan></text>
<text x="380.9" y="363.6" font-size="8.6" font-weight="bold" textLength="73" lengthAdjust="spacingAndGlyphs">Wavenumber [cm<tspan dy="-3.8" font-size="5"> -1</tspan><tspan dy="3.8">]</tspan></text>
<text x="123.9" y="538" font-size="8.6" font-weight="bold" textLength="67.4" lengthAdjust="spacingAndGlyphs">Wavenumber [cm<tspan dy="-3.8" font-size="5"> -1</tspan><tspan dy="3.8">]</tspan></text>
<text x="381.1" y="538" font-size="8.6" font-weight="bold" textLength="73" lengthAdjust="spacingAndGlyphs">Wavenumber [cm<tspan dy="-3.8" font-size="5"> -1</tspan><tspan dy="3.8">]</tspan></text>
<text transform="translate(52.2 146.8) rotate(-90)" font-size="8.2" font-weight="bold" textLength="107" lengthAdjust="spacingAndGlyphs">Raman Intensity [cts/s x 10<tspan dy="-3.2" font-size="5">3</tspan><tspan dy="3.2">]</tspan></text>
<text transform="translate(311.7 146.4) rotate(-90)" font-size="8.2" font-weight="bold" textLength="106.2" lengthAdjust="spacingAndGlyphs">Raman Intensity [cts/s x 10<tspan dy="-3.2" font-size="5">3</tspan><tspan dy="3.2">]</tspan></text>
<text transform="translate(52.4 324.3) rotate(-90)" font-size="8.2" font-weight="bold" textLength="106.6" lengthAdjust="spacingAndGlyphs">Raman Intensity [cts/s x 10<tspan dy="-3.2" font-size="5">3</tspan><tspan dy="3.2">]</tspan></text>
<text transform="translate(311.7 324.3) rotate(-90)" font-size="8.2" font-weight="bold" textLength="106" lengthAdjust="spacingAndGlyphs">Raman Intensity [cts/s x 10<tspan dy="-3.2" font-size="5">3</tspan><tspan dy="3.2">]</tspan></text>
<text transform="translate(52.2 495.5) rotate(-90)" font-size="8.2" font-weight="bold" textLength="98" lengthAdjust="spacingAndGlyphs">Raman Intensity [cts/s x 10<tspan dy="-3.2" font-size="5">3</tspan><tspan dy="3.2">]</tspan></text>
<text transform="translate(311.7 498.3) rotate(-90)" font-size="8.2" font-weight="bold" textLength="105.6" lengthAdjust="spacingAndGlyphs">Raman Intensity [cts/s x 10<tspan dy="-3.2" font-size="5">3</tspan><tspan dy="3.2">]</tspan></text>
<line x1="182.4" y1="27.1" x2="198" y2="27.1" stroke="#ff8000" stroke-width="1.3" />
<line x1="182.4" y1="36.6" x2="198" y2="36.6" stroke="#5a5aff" stroke-width="1.3" />
<text x="200.2" y="29.6" font-size="7.6" font-weight="bold" textLength="72.2" lengthAdjust="spacingAndGlyphs">noncancerous tissue</text>
<text x="200.2" y="38.8" font-size="7.6" font-weight="bold" textLength="28.8" lengthAdjust="spacingAndGlyphs">baseline</text>
<line x1="455.9" y1="28.5" x2="470.2" y2="28.5" stroke="#c86060" stroke-width="1.3" />
<line x1="455.9" y1="37.6" x2="470.2" y2="37.6" stroke="#3a3aff" stroke-width="1.3" />
<text x="472.7" y="30.6" font-size="7.6" font-weight="bold" textLength="59.7" lengthAdjust="spacingAndGlyphs">cancerous tissue</text>
<text x="472.7" y="39.9" font-size="7.6" font-weight="bold" textLength="28.9" lengthAdjust="spacingAndGlyphs">baseline</text>
<line x1="91.8" y1="200.7" x2="107.6" y2="200.7" stroke="#2a9a2a" stroke-width="1.3" />
<line x1="91.8" y1="212.3" x2="107.6" y2="212.3" stroke="#2222ee" stroke-width="1.3" />
<text x="109" y="202.9" font-size="7.6" font-weight="bold" textLength="163.5" lengthAdjust="spacingAndGlyphs">noncancerous tissue with N-TiO<tspan dy="2.8" font-size="8.2">2</tspan><tspan dy="-2.8"> EB irradiated</tspan></text>
<text x="109" y="215" font-size="7.6" font-weight="bold" textLength="28.1" lengthAdjust="spacingAndGlyphs">baseline</text>
<line x1="363.4" y1="201.4" x2="378.3" y2="201.4" stroke="#9a40ff" stroke-width="1.3" />
<line x1="363.4" y1="212.8" x2="378.3" y2="212.8" stroke="#4a4aff" stroke-width="1.3" />
<text x="381.2" y="203.6" font-size="7.6" font-weight="bold" textLength="149.9" lengthAdjust="spacingAndGlyphs">cancerous tissue with N-TiO<tspan dy="2.8" font-size="8.2">2</tspan><tspan dy="-2.8"> EB irradiated</tspan></text>
<text x="381.2" y="215" font-size="7.6" font-weight="bold" textLength="28" lengthAdjust="spacingAndGlyphs">baseline</text>
<line x1="94.2" y1="377" x2="108.7" y2="377" stroke="#ff8000" stroke-width="1.3" />
<line x1="94.2" y1="386.2" x2="108.7" y2="386.2" stroke="#2a9a2a" stroke-width="1.3" />
<text x="111.2" y="378.9" font-size="7.6" font-weight="bold" textLength="71.8" lengthAdjust="spacingAndGlyphs">noncancerous tissue</text>
<text x="111.2" y="388" font-size="7.6" font-weight="bold" textLength="163.4" lengthAdjust="spacingAndGlyphs">noncancerous tissue with N-TiO<tspan dy="2.8" font-size="8.2">2</tspan><tspan dy="-2.8"> EB irradiated</tspan></text>
<line x1="364.6" y1="377.6" x2="379.6" y2="377.6" stroke="#8b0000" stroke-width="1.3" />
<line x1="364.6" y1="386.5" x2="379.6" y2="386.5" stroke="#9a40ff" stroke-width="1.3" />
<text x="381.9" y="379.7" font-size="7.6" font-weight="bold" textLength="59.1" lengthAdjust="spacingAndGlyphs">cancerous tissue</text>
<text x="381.9" y="388.6" font-size="7.6" font-weight="bold" textLength="149.5" lengthAdjust="spacingAndGlyphs">cancerous tissue with N-TiO<tspan dy="2.8" font-size="8.2">2</tspan><tspan dy="-2.8"> EB irradiated</tspan></text>
<polyline fill="none" stroke="#ff8000" stroke-width="1.3" stroke-linejoin="round" points="73.5,118.84 74,117.65 74.49,119.91 74.99,117.92 75.48,119.22 75.98,119.22 76.48,116.99 76.97,118.78 77.47,118.98 77.96,118.18 78.46,117.76 78.96,118.94 79.45,118.29 79.95,119.89 80.44,119.25 80.94,119.31 81.44,120.21 81.93,120.38 82.43,120.48 82.92,119.03 83.42,118.94 83.92,119.07 84.41,118.64 84.91,120.07 85.4,118.75 85.9,118.4 86.4,117.84 86.89,119.46 87.39,118.97 87.88,120.61 88.38,119.02 88.88,120.73 89.37,119.9 89.87,117.26 90.36,120.63 90.86,117.5 91.36,117.94 91.85,118.56 92.35,117.71 92.84,117.59 93.34,117 93.84,118.26 94.33,118.58 94.83,118.53 95.32,118.86 95.82,117.81 96.32,118.49 96.81,116.48 97.31,119.41 97.8,118.51 98.3,118.25 98.8,119.3 99.29,115.06 99.79,119.37 100.28,117.04 100.78,117.15 101.28,114.75 101.77,118.36 102.27,115.05 102.76,116.75 103.26,115.99 103.76,116.36 104.25,114.81 104.75,116.44 105.24,115.12 105.74,114.44 106.24,112.65 106.73,116.77 107.23,112.44 107.72,112.75 108.22,113.93 108.72,112.81 109.21,113.29 109.71,110.79 110.2,111.94 110.7,112.03 111.2,111.67 111.69,111.22 112.19,110.56 112.68,108.46 113.38,96.04 113.68,97.63 114.17,109.46 114.67,112.49 115.16,108.77 115.66,108.52 116.16,107.67 116.65,107.91 117.15,107.49 117.64,106.6 118.14,105.52 118.64,106.49 119.13,105.77 119.63,102.13 120.12,97.13 120.62,76.6 120.92,66.12 121.61,89.55 122.11,99.74 122.6,100.3 123.1,102.56 123.6,103.67 124.09,102.28 124.59,103.33 125.08,103.35 125.58,103.35 126.08,102.27 126.57,100.27 127.07,101.29 127.56,101.45 128.06,99.3 128.56,98.88 129.05,99.99 129.55,99.33 130.04,98.87 130.54,100.12 131.04,99.92 131.53,99.64 132.03,100.59 132.52,98.56 133.02,97.66 133.52,98.65 134.01,98.34 134.51,96.21 135,93.97 135.5,96.57 136,98.55 136.49,98.64 136.99,98.96 137.48,97.77 137.98,94.1 138.48,75.39 138.87,64.47 139.72,89.04 140.46,96.62 140.96,99.45 141.45,101.49 141.95,99.56 142.44,98.67 142.94,100.75 143.44,100.64 143.93,100.8 144.43,99.38 144.92,100.34 145.62,98.51 145.92,97.85 146.41,100.33 146.91,99.9 147.4,101.22 147.9,101.72 148.4,103.19 148.89,102.56 149.39,102.3 149.88,101.54 150.38,102.17 150.88,103.34 151.37,102.41 151.87,102.02 152.36,103.42 152.86,103.94 153.36,104.13 153.85,103.18 154.35,103.79 154.84,105.63 155.34,104.57 155.84,105.73 156.33,106.29 156.83,104.51 157.32,105.22 157.82,107.09 158.32,106.54 158.81,106.38 159.31,107.83 159.8,107.57 160.3,107.03 160.8,109.84 161.29,107.93 161.79,107.78 162.28,108.29 162.78,110.47 163.28,109.03 163.77,110.52 164.27,109.31 164.76,109.55 165.26,110.22 165.76,111.5 166.25,111.59 166.75,110.36 167.24,112.44 167.74,111.27 168.24,111.52 168.73,112.6 169.23,110.11 169.72,112.77 170.22,110.89 170.72,115.45 171.21,115.95 171.71,112.88 172.2,113.5 172.7,114.74 173.2,114.73 173.69,116.9 174.19,115.84 174.68,116.52 175.18,115.94 175.68,115.05 176.17,116.17 176.67,116.09 177.16,117.45 177.66,117.43 178.16,117.12 178.65,117.78 179.15,116.43 179.64,118.89 180.14,116.29 180.64,119.5 181.13,117.64 181.63,119.78 182.12,117.52 182.62,119.33 183.12,119.3 183.61,119.19 184.11,120.85 184.6,121.51 185.1,122.77 185.6,119.66 186.09,121.87 186.59,122 187.08,121.66 187.58,119.81 188.08,123.88 188.57,122.07 189.07,122.96 189.56,122.24 190.06,124.87 190.56,123.65 191.05,122.59 191.55,122.07 192.04,122.25 192.54,124.98 193.04,124.24 193.53,124.58 194.03,125.96 194.52,125.61 195.02,121.57 195.76,119.14 196.51,122.75 197,125.37 197.5,124.81 198,127.46 198.49,126.15 198.99,126.92 199.48,127.21 199.98,126.84 200.48,127.36 200.97,127.44 201.47,127.59 201.96,125.99 202.46,128.38 202.96,126.97 203.45,126.93 203.95,126.14 204.44,120.61 204.94,115.85 205.44,110.89 205.93,111.65 206.43,115.84 206.92,113.59 207.42,111.3 207.92,114.9 208.41,119.84 208.91,122.13 209.65,123.2 210.4,125.97 210.89,130.08 211.39,132.83 211.88,132.31 212.38,133.12 212.88,134.79 213.37,133.12 213.87,134.21 214.36,135.68 214.86,134.5 215.36,136.57 215.85,136.36 216.35,135.29 216.84,137.55 217.34,136.14 217.84,137.8 218.33,135.88 218.83,137.62 219.32,136.91 219.82,138.87 220.32,137.9 220.81,136.78 221.31,137.51 221.8,140.09 222.3,137.46 222.8,137.71 223.29,139.23 223.79,137.59 224.28,140.35 224.78,139.55 225.28,138.52 225.77,138.52 226.27,138.76 226.76,141.41 227.26,142.32 227.76,140.28 228.25,142.35 228.75,141.21 229.24,142.59 229.74,140.37 230.24,140.82 230.73,141.27 231.23,142.01 231.72,142.17 232.22,142.71 232.72,142.19 233.21,142.51 233.71,142.47 234.2,143.57 234.7,141.34 235.2,143.18 235.69,142.21 236.19,142.45 236.68,144.9 237.18,145.9 237.68,143.03 238.17,144.89 238.67,144.57 239.16,145.08 239.66,144.84 240.16,146.36 240.65,145.4 241.15,145.92 241.64,145.61 242.14,148.15"/>
<polyline fill="none" stroke="#2222ee" stroke-width="1.4" stroke-linejoin="round" points="73.5,122.44 74.49,122.42 75.48,122.38 76.48,122.34 77.47,122.3 78.46,122.26 79.45,122.21 80.44,122.16 81.44,122.1 82.43,122.04 83.42,121.98 84.41,121.92 85.4,121.86 86.4,121.79 87.39,121.73 88.38,121.65 89.37,121.58 90.36,121.5 91.36,121.41 92.35,121.31 93.34,121.2 94.33,121.08 95.32,120.95 96.32,120.79 97.31,120.6 98.3,120.38 99.29,120.13 100.28,119.86 101.28,119.57 102.27,119.27 103.26,118.95 104.25,118.61 105.24,118.21 106.24,117.77 107.23,117.3 108.22,116.8 109.21,116.28 110.2,115.76 111.2,115.23 112.19,114.7 113.18,114.13 114.17,113.55 115.16,112.94 116.16,112.32 117.15,111.7 118.14,111.09 119.13,110.5 120.12,109.92 121.12,109.34 122.11,108.74 123.1,108.14 124.09,107.55 125.08,106.99 126.08,106.47 127.07,105.99 128.06,105.58 129.05,105.21 130.04,104.84 131.04,104.47 132.03,104.12 133.02,103.81 134.01,103.56 135,103.37 136,103.27 136.99,103.26 137.98,103.29 138.97,103.35 139.96,103.44 140.96,103.54 141.95,103.66 142.94,103.8 143.93,103.94 144.92,104.08 145.92,104.25 146.91,104.46 147.9,104.7 148.89,104.98 149.88,105.3 150.88,105.64 151.87,106.01 152.86,106.41 153.85,106.9 154.84,107.51 155.84,108.03 156.83,108.55 157.82,109.06 158.81,109.58 159.8,110.09 160.8,110.6 161.79,111.11 162.78,111.63 163.77,112.14 164.76,112.64 165.76,113.15 166.75,113.66 167.74,114.16 168.73,114.67 169.72,115.17 170.72,115.67 171.71,116.17 172.7,116.67 173.69,117.17 174.68,117.67 175.68,118.16 176.67,118.66 177.66,119.15 178.65,119.64 179.64,120.13 180.64,120.61 181.63,121.1 182.62,121.58 183.61,122.06 184.6,122.54 185.6,123.02 186.59,123.5 187.58,123.97 188.57,124.44 189.56,124.91 190.56,125.38 191.55,125.84 192.54,126.31 193.53,126.77 194.52,127.23 195.52,127.68 196.51,128.14 197.5,128.59 198.49,129.04 199.48,129.48 200.48,129.93 201.47,130.37 202.46,130.81 203.45,131.25 204.44,131.68 205.44,132.11 206.43,132.54 207.42,132.96 208.41,133.39 209.4,133.81 210.4,134.22 211.39,134.64 212.38,135.05 213.37,135.45 214.36,135.86 215.36,136.26 216.35,136.66 217.34,137.05 218.33,137.45 219.32,137.83 220.32,138.22 221.31,138.6 222.3,138.98 223.29,139.35 224.28,139.72 225.28,140.09 226.27,140.46 227.26,140.82 228.25,141.17 229.24,141.53 230.24,141.87 231.23,142.22 232.22,142.56 233.21,142.9 234.2,143.23 235.2,143.56 236.19,143.89 237.18,144.21 238.17,144.53 239.16,144.84 240.16,145.15 241.15,145.46 242.14,145.76"/>
<polyline fill="none" stroke="#8b0000" stroke-width="1.6" stroke-linejoin="round" points="333.4,128.96 333.65,125.98 333.89,129.79 334.14,127.21 334.39,129.26 334.64,128.26 334.88,128.88 335.13,126.92 335.38,126.49 335.63,126.76 335.87,126.52 336.12,126.73 336.37,126.2 336.62,126.62 336.86,124.61 337.11,123.63 337.36,124.88 337.61,123.88 337.85,125.8 338.1,127.32 338.35,123.68 338.6,125.31 338.84,126.5 339.09,124.02 339.34,123.51 339.59,122.83 339.83,124.24 340.08,120.89 340.33,123.91 340.58,119.31 340.82,122.48 341.07,123.12 341.32,125.71 341.57,122.4 341.81,122.52 342.06,121.36 342.31,122.89 342.56,121.13 342.8,120.26 343.05,117.85 343.3,120.17 343.55,120.53 343.79,121.98 344.04,118.49 344.29,120.64 344.54,121.49 344.78,122.45 345.03,119.47 345.28,120.26 345.53,118.97 345.77,121.11 346.02,116.11 346.27,117.52 346.51,118.84 346.76,118.64 347.01,119.61 347.26,116.4 347.5,121.53 347.75,118.68 348,118.11 348.25,117.51 348.49,119.93 348.74,117.99 348.99,117.39 349.24,118.26 349.48,118.97 349.73,117.82 349.98,115.96 350.23,117.65 350.47,118.15 350.72,113.85 350.97,118.55 351.22,115.08 351.46,115.63 351.71,116.89 351.96,115.93 352.21,114.75 352.45,113.89 352.7,112.16 352.95,119.15 353.2,115.62 353.44,113.81 353.69,116.13 353.94,115.69 354.19,113.84 354.43,115.54 354.68,116.94 354.93,114.16 355.18,116.04 355.42,115.85 355.67,115.85 355.92,112.83 356.17,113.52 356.41,113.24 356.66,115.38 356.91,114.91 357.16,114.33 357.4,115.25 357.65,115.64 357.9,113.92 358.14,114.26 358.39,114.51 358.64,113.69 358.89,112.85 359.13,113.69 359.38,113.69 359.63,112.9 359.88,113.65 360.12,111.12 360.37,116.15 360.62,114.53 360.87,114.48 361.11,113.27 361.36,113.93 361.61,113.52 361.86,111.25 362.1,112.49 362.35,111.19 362.6,112.32 362.85,114.45 363.09,115.78 363.34,111.85 363.59,110.59 363.84,112.42 364.08,112.98 364.33,110.3 364.58,111.96 364.83,110.67 365.07,111.1 365.32,109.52 365.57,111.27 365.82,109.22 366.06,108.87 366.31,111.18 366.56,110.48 366.81,111.7 367.05,113.54 367.3,111.56 367.55,111.22 367.8,110.05 368.04,109.46 368.29,109.83 368.54,110.26 368.79,110.11 369.03,109.39 369.28,107.94 369.53,107.46 369.78,107.15 370.02,109.64 370.27,109.74 370.52,109.17 370.76,108.28 371.01,109.11 371.26,107.98 371.51,107.24 371.75,107.83 372,107.7 372.25,109.52 372.5,108.4 372.74,107.36 372.99,104.05 373.24,108.11 373.49,106.71 373.73,107.25 373.98,107.28 374.23,105.85 374.48,106.09 374.72,107.53 374.97,106.28 375.22,105.92 375.47,109.69 375.71,106.36 375.96,105.81 376.21,107.3 376.46,104.7 376.7,105.8 376.95,103 377.2,104.99 377.45,105.22 377.69,107.23 377.94,102.48 378.19,106.39 378.44,106.22 378.68,102.53 378.93,103.31 379.18,104.21 379.43,104.57 379.67,102 379.92,104.55 380.17,104.98 380.42,103.05 380.66,101.53 380.91,100.97 381.16,100.66 381.41,103.5 381.65,102.24 381.9,103.71 382.15,101.44 382.4,100.66 382.64,102.55 382.89,100.98 383.14,102.16 383.38,100.94 383.63,100.19 383.88,101.07 384.13,100.28 384.37,100.55 384.62,100.33 384.87,97.63 385.12,99.08 385.36,101.25 385.61,99.02 385.86,99.62 386.11,100 386.35,98.45 386.6,100.47 386.85,100.61 387.1,99.21 387.34,98.38 387.59,98.73 387.84,99.49 388.09,98.93 388.33,99.66 388.58,98.17 388.83,95.43 389.08,96.84 389.32,98.21 389.57,98.89 389.82,97.33 390.07,95.01 390.31,95.51 390.56,97.17 390.81,98.43 391.06,97.44 391.3,97.22 391.55,97.42 391.8,97.63 392.05,93.89 392.29,98.18 392.54,96.68 392.79,96.38 393.04,94.87 393.28,94.82 393.53,94.64 393.78,93.59 394.03,94.12 394.27,95.3 394.52,94.63 394.77,94.1 395.02,92.37 395.26,96.45 395.51,94.51 395.76,93.68 396,92.02 396.25,93.83 396.5,94.17 396.75,92.7 396.99,93.1 397.24,93.47 397.49,93.34 397.74,94.95 397.98,91.52 398.23,92.57 398.48,91 398.73,92.86 398.97,91.48 399.22,93.5 399.47,90.74 399.72,92.14 399.96,92.96 400.21,93.72 400.46,93.25 400.71,90.75 400.95,92.25 401.2,93.02 401.45,93.82 401.7,93.82 401.94,93.33 402.19,93.21 402.44,90.18 402.69,94.61 402.93,92.54 403.18,94.63 403.43,93.83 403.68,90.72 403.92,91.74 404.17,93.45 404.42,93.97 404.67,94.45 404.91,96.12 405.16,93.56 405.41,92.94 405.66,94.56 405.9,94.88 406.15,93.88 406.4,93.22 406.65,95.84 406.89,94.33 407.14,96.49 407.39,96.61 407.63,93.93 407.88,94.08 408.13,95.21 408.38,97.32 408.62,95.66 408.87,96.88 409.12,97.19 409.37,94.62 409.61,93.01 409.86,93.71 410.11,94.39 410.36,96.18 410.6,95.48 410.85,97.15 411.1,95.04 411.35,99.97 411.59,95.67 411.84,98.92 412.09,96.79 412.34,97.03 412.58,97.31 412.83,97.63 413.08,97.62 413.33,100.71 413.57,98.22 413.82,97.56 414.07,99.06 414.32,99.11 414.56,97.55 414.81,98.33 415.06,99.36 415.31,98.26 415.55,99.94 415.8,98.67 416.05,96.85 416.3,99.56 416.54,100.8 416.79,99.87 417.04,101.85 417.29,100.56 417.53,98.36 417.78,101.09 418.03,100.42 418.28,101.46 418.52,99.19 418.77,104.44 419.02,100.57 419.27,102.26 419.51,103.62 419.76,103.66 420.01,100.67 420.25,99.41 420.5,102.42 420.75,99.73 421,102.99 421.24,102.81 421.49,102.94 421.74,102.88 421.99,104.33 422.23,102.33 422.48,102.6 422.73,103.1 422.98,101.69 423.22,103.02 423.47,104.86 423.72,105.87 423.97,102.59 424.21,104.64 424.46,101.7 424.71,104.36 424.96,104.49 425.2,105.07 425.45,103.3 425.7,104.96 425.95,103.61 426.19,108.38 426.44,103.68 426.69,104.29 426.94,106.29 427.18,104.34 427.43,105.42 427.68,105.71 427.93,103.04 428.17,105.6 428.42,104.65 428.67,107.05 428.92,103.52 429.16,106.77 429.41,104.6 429.66,104.38 429.91,104.73 430.15,107.3 430.4,106.24 430.65,105.29 430.9,104.71 431.14,105.27 431.39,106.16 431.64,104.12 431.89,105.16 432.13,104.32 432.38,104.02 432.63,106.76 432.87,104.31 433.12,104.6 433.37,105.37 433.62,105.05 433.86,105.5 434.11,105.55 434.36,106.18 434.61,104.73 434.85,103.64 435.1,102.92 435.35,101.64 435.6,106.17 435.84,101.48 436.09,104.47 436.34,103.48 436.59,104.97 436.83,100.67 437.08,103.17 437.33,101.34 437.58,104.74 437.82,103.5 438.07,102.42 438.32,103.52 438.57,102.56 438.81,102.87 439.06,101.62 439.31,101.15 439.56,103.02 439.8,102.26 440.05,103.04 440.3,101.81 440.55,102.81 440.79,100.73 441.04,101.9 441.29,102.25 441.54,102.42 441.78,102.24 442.03,98.6 442.28,102.53 442.53,99.16 442.77,102.46 443.02,101.22 443.27,101.4 443.52,98.64 443.76,102.27 444.01,101.57 444.26,101.26 444.51,100.75 444.75,99.68 445,99.65 445.25,98.92 445.49,98.88 445.74,101.75 445.99,100.29 446.24,100.97 446.48,98.73 446.73,98.7 446.98,99.99 447.23,97.58 447.47,99.43 447.72,99.63 447.97,98.23 448.22,100.55 448.46,100.09 448.71,98.39 448.96,100.03 449.21,99.1 449.45,99.76 449.7,100.09 449.95,98.07 450.2,95.81 450.44,97.83 450.69,98.9 450.94,101.81 451.19,100.64 451.43,101.46 451.68,100.33 451.93,101.32 452.18,100.85 452.42,100.31 452.67,101.95 452.92,100.17 453.17,100.87 453.41,98.79 453.66,101.97 453.91,102.97 454.16,100.58 454.4,102.6 454.65,104.17 454.9,103.24 455.15,103.25 455.39,102.79 455.64,103.18 455.89,102.06 456.14,102.7 456.38,103.62 456.63,104.2 456.88,103.9 457.12,104.93 457.37,103.78 457.62,104.13 457.87,103.17 458.11,100.97 458.36,105.77 458.61,105.89 458.86,106.6 459.1,103.86 459.35,105.29 459.6,103.38 459.85,105.26 460.09,103.8 460.34,104.25 460.59,105.28 460.84,104.21 461.08,105.3 461.33,105.68 461.58,104.36 461.83,104.93 462.07,104.84 462.32,104.28 462.57,103.78 462.82,105.65 463.06,106.64 463.31,107.76 463.56,107.92 463.81,104.48 464.05,105.94 464.3,106.91 464.55,105.87 464.8,105.62 465.04,112.89 465.29,107.71 465.54,105.28 465.79,106.46 466.03,104.26 466.28,107.76 466.53,105.95 466.78,107.17 467.02,104.95 467.27,106.83 467.52,107.48 467.77,109.51 468.01,108.95 468.26,109.73 468.51,110.22 468.76,108.03 469,107.25 469.25,106.76 469.5,110.7 469.74,110.02 469.99,109.44 470.24,110.94 470.49,108.62 470.73,111.11 470.98,110.39 471.23,108.08 471.48,110.41 471.72,111.69 471.97,112.43 472.22,109.68 472.47,111.5 472.71,111.24 472.96,109.46 473.21,112.93 473.46,113.22 473.7,112.62 473.95,112.07 474.2,113.26 474.45,110.78 474.69,110.12 474.94,113.71 475.19,111.46 475.44,114.71 475.68,111.41 475.93,112.58 476.18,113.01 476.43,111.18 476.67,112.43 476.92,112.69 477.17,109.41 477.42,114.45 477.66,113.49 477.91,113.35 478.16,112.66 478.41,111.86 478.65,114.31 478.9,114.96 479.15,116.34 479.4,114.9 479.64,112.25 479.89,112.24 480.14,113.34 480.39,114.9 480.63,112.92 480.88,113.94 481.13,114.21 481.38,113.21 481.62,116.6 481.87,114.96 482.12,116.72 482.36,114.09 482.61,113.71 482.86,118.09 483.11,115.56 483.35,116.73 483.6,114.06 483.85,116.28 484.1,116.16 484.34,116.75 484.59,115.9 484.84,115.9 485.09,118.15 485.33,115.73 485.58,116.7 485.83,116.1 486.08,117.77 486.32,117.91 486.57,117.18 486.82,117.89 487.07,118.75 487.31,117.08 487.56,117.44 487.81,119.35 488.06,118.63 488.3,117.32 488.55,117.33 488.8,116.04 489.05,120.08 489.29,117.74 489.54,116.25 489.79,120.98 490.04,117.76 490.28,119 490.53,117.96 490.78,118.76 491.03,118.4 491.27,121.94 491.52,120.74 491.77,121.9 492.02,120.73 492.26,119.67 492.51,123.72 492.76,121.86 493.01,122.34 493.25,121.92 493.5,120.86 493.75,123.11 494,122.53 494.24,121.58 494.49,121.45 494.74,124.28 494.98,121.76 495.23,123.6 495.48,123 495.73,121.69 495.97,123.92 496.22,122.88 496.47,123.48 496.72,123.42 496.96,121.73 497.21,122.38 497.46,124.13 497.71,125.42 497.95,125.46 498.2,126.3 498.45,126.19 498.7,124.08 498.94,124.31 499.19,123.6 499.44,124.9 499.69,124.42 499.93,127.05 500.18,127.48 500.43,124.57 500.68,126.21 500.92,126.57 501.17,129.19 501.42,125.16 501.67,126.1"/>
<polyline fill="none" stroke="#2222ee" stroke-width="1.3" stroke-linejoin="round" points="333.4,131.11 334.39,130.02 335.38,128.96 336.37,127.94 337.36,126.97 338.35,126.06 339.34,125.21 340.33,124.44 341.32,123.76 342.31,123.13 343.3,122.54 344.29,121.99 345.28,121.47 346.27,120.98 347.26,120.51 348.25,120.06 349.24,119.62 350.23,119.18 351.22,118.75 352.21,118.32 353.2,117.89 354.19,117.49 355.18,117.1 356.17,116.72 357.16,116.35 358.14,115.99 359.13,115.62 360.12,115.25 361.11,114.87 362.1,114.48 363.09,114.07 364.08,113.65 365.07,113.23 366.06,112.8 367.05,112.37 368.04,111.93 369.03,111.48 370.02,111.02 371.01,110.55 372,110.06 372.99,109.56 373.98,109.04 374.97,108.5 375.96,107.92 376.95,107.31 377.94,106.67 378.93,106.01 379.92,105.34 380.91,104.66 381.9,103.98 382.89,103.31 383.88,102.65 384.87,102.01 385.86,101.39 386.85,100.77 387.84,100.15 388.83,99.56 389.82,99.02 390.81,98.53 391.8,98.02 392.79,97.5 393.78,96.99 394.77,96.5 395.76,96.04 396.75,95.63 397.74,95.29 398.73,95.03 399.72,94.86 400.71,94.8 401.7,94.87 402.69,95.05 403.68,95.34 404.67,95.71 405.66,96.15 406.65,96.64 407.63,97.15 408.62,97.68 409.61,98.2 410.6,98.69 411.59,99.16 412.58,99.66 413.57,100.21 414.56,100.79 415.55,101.38 416.54,101.98 417.53,102.57 418.52,103.14 419.51,103.69 420.5,104.19 421.49,104.63 422.48,105.02 423.47,105.41 424.46,105.8 425.45,106.18 426.44,106.52 427.43,106.81 428.42,107.03 429.41,107.16 430.4,107.17 431.39,107.06 432.38,106.85 433.37,106.55 434.36,106.2 435.35,105.81 436.34,105.41 437.33,105.02 438.32,104.66 439.31,104.33 440.3,103.96 441.29,103.55 442.28,103.12 443.27,102.7 444.26,102.32 445.25,102 446.24,101.76 447.23,101.63 448.22,101.63 449.21,101.8 450.2,102.1 451.19,102.5 452.18,102.96 453.17,103.45 454.16,103.92 455.15,104.35 456.14,104.76 457.12,105.18 458.11,105.61 459.1,106.05 460.09,106.49 461.08,106.95 462.07,107.41 463.06,107.87 464.05,108.35 465.04,108.82 466.03,109.3 467.02,109.78 468.01,110.27 469,110.75 469.99,111.24 470.98,111.72 471.97,112.21 472.96,112.69 473.95,113.17 474.94,113.65 475.93,114.12 476.92,114.59 477.91,115.06 478.9,115.53 479.89,116 480.88,116.47 481.87,116.94 482.86,117.42 483.85,117.91 484.84,118.4 485.83,118.9 486.82,119.4 487.81,119.92 488.8,120.45 489.79,120.98 490.78,121.53 491.77,122.1 492.76,122.67 493.75,123.27 494.74,123.89 495.73,124.53 496.72,125.19 497.71,125.85 498.7,126.53 499.69,127.23 500.68,127.93 501.67,128.63"/>
<polyline fill="none" stroke="#1a8c1a" stroke-width="1.3" stroke-linejoin="round" points="73.75,284.86 74.49,291.84 74.99,292.15 75.48,292.48 75.98,293.95 76.48,294.79 76.97,294.21 77.47,294.11 77.96,293.93 78.46,295.7 78.96,295.94 79.45,294.76 79.95,295.03 80.44,294.38 80.94,294.74 81.44,295.33 81.93,294.77 82.43,289.11 82.92,280.69 83.32,274.54 83.92,285.85 84.41,293.82 84.91,294.75 85.4,294.54 85.9,294.27 86.4,293.68 86.89,294.04 87.39,294.31 87.88,293.51 88.38,288.43 89.12,276.79 89.87,288.98 90.36,295.29 90.86,294.58 91.36,296.09 91.85,295.17 92.35,295.86 92.84,294.57 93.34,294.59 93.84,292.38 94.33,283.88 94.83,270.5 95.27,260.18 95.82,273.2 96.32,288.4 96.81,292.35 97.31,292.59 97.8,293.27 98.3,292.96 98.8,293.07 99.29,293.71 99.79,292.51 100.28,293.28 100.78,291.31 101.28,292.73 101.77,291.75 102.27,292.03 102.76,291.2 103.26,292.06 103.76,290.8 104.25,291.37 104.75,290.25 105.24,290.49 105.74,290.62 106.24,291.04 106.73,289.79 107.23,289.77 107.72,288.76 108.22,289.9 108.72,289.04 109.21,288.84 109.71,288.73 110.2,288.38 110.7,287.44 111.34,286.03 111.69,286.77 112.19,287.88 112.68,286.78 113.38,279.93 113.68,282.01 114.17,285.55 114.67,286.34 115.16,286.2 115.66,286.17 116.16,285.61 116.65,284.5 117.05,283.75 117.64,284.37 118.14,284.5 118.64,285.97 119.13,286.04 119.63,283.88 120.12,283.27 120.62,276.83 120.92,274.99 121.61,281.65 122.11,285.19 122.6,283.02 123.1,283.44 123.6,284.45 124.09,283.98 124.59,284.29 125.08,284.71 125.58,283.24 126.32,280.86 127.07,282.15 127.56,280.8 128.06,280.16 128.56,281.29 129.05,283.47 129.55,283.1 130.04,284.49 130.54,282.86 131.04,280.95 131.78,279.03 132.52,282.03 133.02,284.81 133.52,284.83 134.01,283.76 134.51,281.95 135,280.82 135.5,281.42 136,284.93 136.49,284.82 136.99,284.5 137.48,284.97 137.98,285.41 138.48,278.24 138.87,274.99 139.47,280.04 139.96,284.2 140.46,286.07 140.96,285.81 141.45,284.92 141.95,282.14 142.25,283.43 142.94,284.8 143.44,286.05 143.93,285.34 144.43,286.41 144.92,284.35 145.62,283.97 145.92,285.04 146.41,286.63 146.91,286.69 147.4,286.51 147.9,287.22 148.4,287.63 148.89,289.22 149.39,288.64 149.88,288.73 150.38,288.85 150.88,288.26 151.37,289.04 151.87,288.45 152.36,289.1 152.86,289.54 153.36,289.41 153.85,289.37 154.35,289.25 154.84,290.32 155.34,290.33 155.84,291.26 156.33,289.43 156.83,289.69 157.32,290.95 157.82,291.31 158.32,291.97 158.81,291.18 159.31,291.31 159.8,290.13 160.3,291.58 160.8,292.43 161.29,293.72 161.79,291.29 162.28,292.29 162.78,293.69 163.28,292.68 163.77,294.08 164.27,290.85 164.76,292.65 165.26,293.23 165.76,293.95 166.25,295.49 166.75,294.35 167.24,295.53 167.74,294.31 168.24,296.38 168.73,295.78 169.23,294.57 169.72,294.51 170.22,296.64 170.72,297.11 171.21,295.71 171.71,295.95 172.2,297.41 172.7,297.43 173.2,297.65 173.69,298.19 174.19,298.05 174.68,296.94 175.18,297.51 175.68,296.77 176.17,298.39 176.67,298.6 177.16,299.35 177.66,298.94 178.16,299.91 178.65,300.4 179.15,298.9 179.64,298.57 180.14,299.14 180.64,298.98 181.13,299.87 181.63,300.69 182.12,300.31 182.62,300.79 183.12,301.45 183.61,302.01 184.11,302.04 184.6,301.21 185.1,301.28 185.6,301.87 186.09,300.77 186.59,301.78 187.08,301.69 187.58,301.44 188.08,303 188.57,303.95 189.07,302.3 189.56,303.45 190.06,302.28 190.56,303.12 191.05,302.85 191.55,303.19 192.04,305.28 192.54,303.58 193.04,304.69 193.53,304.93 194.03,304.89 194.52,304.26 195.02,304.35 195.52,304.44 196.01,306.41 196.51,305.86 197,307.21 197.5,305.74 198,305.04 198.49,305.42 198.84,304.75 199.48,305.52 199.98,306.25 200.48,306.08 200.97,307.51 201.47,307.7 201.96,307.82 202.46,306.25 202.96,306.68 203.45,307.01 203.95,305.04 204.44,301.21 204.94,295.47 205.54,290.7 205.93,291.06 206.43,292.46 206.92,292.38 207.42,290.92 207.92,294.15 208.41,296.27 208.91,298.85 209.4,300.48 209.9,303.46 210.4,307.75 210.89,311.03 211.39,312.92 211.88,314.25 212.38,313.3 212.83,313.28 213.37,314.48 213.87,316.59 214.36,317.47 214.86,318.06 215.36,318.43 215.85,317.41 216.35,319.88 216.84,318.75 217.34,319.26 217.84,319.53 218.33,319.32 218.83,318.89 219.32,319.87 219.82,320.29 220.32,320.88 220.81,320.82 221.31,320.39 221.8,321.54 222.3,322.32 222.8,322.67 223.29,322.83 223.79,323.3 224.28,321.89 224.78,322.67 225.28,323.34 225.77,322.48 226.27,324.18 226.76,323.51 227.26,323.75 227.76,325.61 228.25,325.9 228.75,325.75 229.24,324.8 229.74,324.82 230.24,326.8 230.73,325.56 231.23,326.81 231.72,327.1 232.22,327.49 232.72,327.63 233.21,328.93 233.71,328.67 234.2,329.12 234.7,328.25 235.2,327.46 235.69,327.33 236.19,329.69 236.68,330.92 237.18,330.33 237.68,330.99 238.17,329.32 238.67,330.57 239.16,331.75 239.66,330.93 240.16,331.51 240.65,333.27 241.15,332.84 241.64,332.95 242.14,333.08"/>
<polyline fill="none" stroke="#2222ee" stroke-width="1.4" stroke-linejoin="round" points="73.5,293.17 74.49,293.78 75.48,294.34 76.48,294.91 77.47,295.48 78.46,296.01 79.45,296.47 80.44,296.84 81.44,297.1 82.43,297.34 83.42,297.56 84.41,297.76 85.4,297.93 86.4,298.06 87.39,298.15 88.38,298.19 89.37,298.17 90.36,298.08 91.36,297.94 92.35,297.75 93.34,297.54 94.33,297.32 95.32,297.09 96.32,296.87 97.31,296.62 98.3,296.34 99.29,296.04 100.28,295.72 101.28,295.38 102.27,295.03 103.26,294.68 104.25,294.33 105.24,293.98 106.24,293.61 107.23,293.21 108.22,292.8 109.21,292.39 110.2,291.99 111.2,291.6 112.19,291.24 113.18,290.92 114.17,290.62 115.16,290.31 116.16,289.99 117.15,289.67 118.14,289.35 119.13,289.05 120.12,288.76 121.12,288.49 122.11,288.24 123.1,288.02 124.09,287.84 125.08,287.7 126.08,287.61 127.07,287.56 128.06,287.56 129.05,287.59 130.04,287.64 131.04,287.7 132.03,287.78 133.02,287.88 134.01,287.98 135,288.09 136,288.21 136.99,288.33 137.98,288.45 138.97,288.59 139.96,288.74 140.96,288.9 141.95,289.09 142.94,289.29 143.93,289.51 144.92,289.74 145.92,289.99 146.91,290.25 147.9,290.52 148.89,290.81 149.88,291.1 150.88,291.41 151.87,291.72 152.86,292.05 153.85,292.38 154.84,292.71 155.84,293.06 156.83,293.41 157.82,293.76 158.81,294.12 159.8,294.48 160.8,294.86 161.79,295.27 162.78,295.72 163.77,296.2 164.76,296.71 165.76,297.23 166.75,297.77 167.74,298.31 168.73,298.87 169.72,299.42 170.72,299.96 171.71,300.5 172.7,301.02 173.69,301.53 174.68,302 175.68,302.46 176.67,302.91 177.66,303.35 178.65,303.78 179.64,304.21 180.64,304.63 181.63,305.05 182.62,305.46 183.61,305.87 184.6,306.27 185.6,306.67 186.59,307.07 187.58,307.47 188.57,307.86 189.56,308.25 190.56,308.64 191.55,309.03 192.54,309.43 193.53,309.82 194.52,310.21 195.52,310.6 196.51,310.99 197.5,311.39 198.49,311.79 199.48,312.19 200.48,312.59 201.47,313 202.46,313.41 203.45,313.83 204.44,314.25 205.44,314.68 206.43,315.1 207.42,315.53 208.41,315.96 209.4,316.38 210.4,316.81 211.39,317.24 212.38,317.68 213.37,318.12 214.36,318.56 215.36,319.01 216.35,319.47 217.34,319.93 218.33,320.4 219.32,320.88 220.32,321.36 221.31,321.86 222.3,322.36 223.29,322.86 224.28,323.37 225.28,323.89 226.27,324.41 227.26,324.94 228.25,325.48 229.24,326.02 230.24,326.56 231.23,327.11 232.22,327.67 233.21,328.23 234.2,328.8 235.2,329.37 236.19,329.95 237.18,330.54 238.17,331.13 239.16,331.73 240.16,332.33 241.15,332.94 242.14,333.56"/>
<polyline fill="none" stroke="#8c1aff" stroke-width="1.3" stroke-linejoin="round" points="333.4,330.68 333.89,329.08 334.39,330.54 334.88,330.96 335.38,328.97 335.87,328.29 336.37,328.08 336.86,327.57 337.36,327.64 337.85,327.59 338.35,327.27 338.84,326.4 339.34,326.06 339.83,324.55 340.33,324.28 340.82,325.22 341.32,323.05 341.81,322.62 342.31,318.59 342.8,310.59 343.2,307.3 343.79,313.61 344.29,320.32 344.78,319.24 345.28,320.68 345.77,317.7 346.27,318.89 346.76,317.87 347.26,315.53 347.75,317.07 348.25,311.8 348.99,303.04 349.73,310.84 350.23,313.04 350.72,313.36 351.22,311.75 351.71,311.99 352.21,310.89 352.7,310.02 353.2,311.14 353.69,307.5 354.19,305.02 354.68,295.91 355.13,287.11 355.67,296.36 356.17,302.96 356.66,304.64 357.16,305.87 357.65,304.82 358.14,304.21 358.64,303.03 359.13,303.39 359.63,301.9 360.12,302.79 360.62,302.03 361.11,300.3 361.61,299.61 362.1,299.59 362.6,298.41 363.09,298.08 363.59,296.97 364.08,295.99 364.58,295.84 365.07,294.93 365.57,295.23 366.06,294.68 366.56,295.44 367.05,292.56 367.55,292.18 368.04,291.09 368.54,292.33 369.03,290.52 369.53,289.86 370.02,289.96 370.52,286.21 371.16,284.62 371.51,283.63 372,286.12 372.5,283.15 373.19,276.34 373.49,276.75 373.98,283.14 374.48,281.65 374.97,280.62 375.47,279.76 375.96,281.69 376.46,280.77 376.95,279.06 377.45,277.56 377.94,278.83 378.44,277.68 378.93,277.19 379.43,274.44 379.92,273.05 380.42,261.36 380.71,256.59 381.41,268.76 381.9,270.28 382.4,268.99 382.84,267.78 383.38,268.41 383.88,268.6 384.37,268.96 384.87,269.84 385.36,268.69 385.86,266.96 386.35,267 386.85,266.82 387.34,265.77 387.84,262.74 388.33,264.89 388.83,263.92 389.32,263.4 389.82,263.47 390.31,261.77 390.81,261.53 391.3,261.39 391.8,262.3 392.29,259.69 392.79,259.58 393.28,259.69 393.78,260.84 394.27,256.71 394.77,254.87 395.26,256.67 395.76,256.92 396.25,257.1 396.75,256.89 397.24,254.74 397.74,253.69 398.23,244.09 398.63,237.29 399.22,249.5 399.72,252.93 400.21,251.73 400.71,252.09 401.2,251.72 401.7,249.58 401.99,248.09 402.69,250.02 403.18,250.22 403.68,249.36 404.17,249.18 404.67,247.24 405.36,245.23 405.66,244.84 406.15,246.88 406.65,246.39 407.14,246.63 407.63,247.05 408.13,246.7 408.62,246.25 409.12,246.5 409.61,246.66 410.11,245.22 410.6,245.34 411.1,244.13 411.59,244.77 412.09,243.9 412.58,243.5 413.08,243.74 413.57,242.9 414.07,243.34 414.56,242.81 415.06,241.53 415.55,241.58 416.05,241.62 416.54,241.98 417.04,240.52 417.53,239.21 418.03,242.32 418.52,239.47 419.02,239.9 419.51,238.95 420.01,238.67 420.5,240.21 421,237.77 421.49,239.44 421.99,238.97 422.48,238.06 422.98,238.43 423.47,237.95 423.97,238.38 424.46,238.6 424.96,237.55 425.45,238.25 425.95,236.09 426.44,236.78 426.94,235.66 427.43,237.6 427.93,238.09 428.42,238.06 428.92,236.35 429.41,236.91 429.91,235.4 430.4,236.7 430.9,236.47 431.39,234.96 431.89,235.35 432.38,234.33 432.87,234.07 433.37,234.27 433.86,235.36 434.36,234.91 434.85,232.21 435.35,234.04 435.84,233.45 436.34,233.41 436.83,233.35 437.33,233.17 437.82,232.47 438.32,230.87 438.81,232.24 439.31,234.26 439.8,231.39 440.3,232.8 440.79,233.74 441.29,232.22 441.78,232.06 442.28,233.73 442.77,232.95 443.27,231.31 443.76,232.05 444.26,232.13 444.75,231.67 445.25,232.58 445.74,232.72 446.24,231.21 446.73,232.66 447.23,232.6 447.72,232.05 448.22,232.57 448.71,233.62 449.21,231.14 449.7,232.76 450.2,231.31 450.69,232.39 451.19,233.58 451.68,231.66 452.18,233.1 452.67,233.71 453.17,233.1 453.66,234.87 454.16,232.88 454.65,233.86 455.15,233.59 455.64,234.33 456.14,233.37 456.63,233.99 457.12,233.8 457.62,233.75 458.11,235.29 458.61,235.84 459.1,236.02 459.6,237.2 460.09,237.16 460.59,236.21 461.08,237.55 461.58,238.34 462.07,236.79 462.57,235.77 463.06,233.95 463.56,234.63 464.05,233.67 464.55,232.13 465.04,231.52 465.54,231.54 466.03,231.15 466.73,231.91 467.02,232.82 467.52,233.67 468.01,235.9 468.51,236.09 469,237.79 469.5,238.39 469.99,239.8 470.49,241.04 470.98,240.24 471.48,240.63 471.97,240.02 472.47,240.43 472.96,241.54 473.46,241.84 473.95,242.9 474.45,242.43 474.94,242.53 475.44,243.33 475.93,244.17 476.43,242.58 476.92,244.66 477.42,242.91 477.91,243.6 478.41,243.63 478.9,245.86 479.4,245 479.89,246.94 480.39,246.44 480.88,247.7 481.38,247.39 481.87,247.54 482.36,246.7 482.86,246.94 483.35,248.43 483.85,248.7 484.34,249.56 484.84,250.05 485.33,250.91 485.83,249.99 486.32,249.68 486.82,251.1 487.31,250.54 487.81,252.09 488.3,252.31 488.8,252.28 489.29,251.49 489.79,252.97 490.28,252.29 490.78,253.53 491.27,254.49 491.77,255.56 492.26,254.69 492.76,255.44 493.25,254.31 493.75,255.05 494.24,257.07 494.74,255.46 495.23,256.07 495.73,259.18 496.22,258.07 496.72,257.42 497.21,259.26 497.71,258.95 498.2,258.34 498.7,258.93 499.19,259.16 499.69,259.41 500.18,260.99 500.68,258.78 501.17,260.65 501.67,259.76"/>
<polyline fill="none" stroke="#2222ee" stroke-width="1.15" stroke-linejoin="round" points="333.4,331.31 334.39,330.63 335.38,329.91 336.37,329.14 337.36,328.34 338.35,327.5 339.34,326.63 340.33,325.73 341.32,324.8 342.31,323.85 343.3,322.86 344.29,321.79 345.28,320.66 346.27,319.48 347.26,318.27 348.25,317.05 349.24,315.83 350.23,314.63 351.22,313.47 352.21,312.33 353.2,311.2 354.19,310.07 355.18,308.94 356.17,307.79 357.16,306.63 358.14,305.43 359.13,304.21 360.12,302.97 361.11,301.71 362.1,300.44 363.09,299.15 364.08,297.86 365.07,296.56 366.06,295.25 367.05,293.94 368.04,292.63 369.03,291.33 370.02,290.03 371.01,288.72 372,287.4 372.99,286.07 373.98,284.72 374.97,283.38 375.96,282.04 376.95,280.7 377.94,279.37 378.93,278.05 379.92,276.74 380.91,275.46 381.9,274.2 382.89,272.97 383.88,271.76 384.87,270.56 385.86,269.39 386.85,268.24 387.84,267.12 388.83,266.05 389.82,265.02 390.81,264.03 391.8,263.07 392.79,262.13 393.78,261.22 394.77,260.31 395.76,259.42 396.75,258.52 397.74,257.61 398.73,256.7 399.72,255.8 400.71,254.9 401.7,254.01 402.69,253.13 403.68,252.27 404.67,251.44 405.66,250.63 406.65,249.86 407.63,249.12 408.62,248.42 409.61,247.76 410.6,247.11 411.59,246.47 412.58,245.85 413.57,245.24 414.56,244.65 415.55,244.09 416.54,243.54 417.53,243.02 418.52,242.52 419.51,242.05 420.5,241.6 421.49,241.19 422.48,240.79 423.47,240.39 424.46,240 425.45,239.62 426.44,239.24 427.43,238.86 428.42,238.5 429.41,238.16 430.4,237.83 431.39,237.51 432.38,237.22 433.37,236.95 434.36,236.7 435.35,236.47 436.34,236.28 437.33,236.11 438.32,235.98 439.31,235.87 440.3,235.77 441.29,235.67 442.28,235.59 443.27,235.53 444.26,235.5 445.25,235.5 446.24,235.52 447.23,235.56 448.22,235.62 449.21,235.69 450.2,235.78 451.19,235.89 452.18,236 453.17,236.13 454.16,236.26 455.15,236.4 456.14,236.54 457.12,236.7 458.11,236.91 459.1,237.17 460.09,237.48 461.08,237.84 462.07,238.23 463.06,238.67 464.05,239.13 465.04,239.62 466.03,240.13 467.02,240.65 468.01,241.19 469,241.74 469.99,242.28 470.98,242.83 471.97,243.37 472.96,243.89 473.95,244.41 474.94,244.94 475.93,245.47 476.92,246.01 477.91,246.57 478.9,247.13 479.89,247.7 480.88,248.27 481.87,248.86 482.86,249.46 483.85,250.06 484.84,250.67 485.83,251.3 486.82,251.93 487.81,252.56 488.8,253.21 489.79,253.87 490.78,254.53 491.77,255.21 492.76,255.89 493.75,256.58 494.74,257.28 495.73,257.99 496.72,258.71 497.71,259.43 498.7,260.17 499.69,260.91 500.68,261.66 501.67,262.42"/>
<polyline fill="none" stroke="#ff8000" stroke-width="1.3" stroke-linejoin="round" points="73.5,507.47 74,507.81 74.49,507.59 74.99,507.07 75.48,508.22 75.98,505.93 76.48,506.96 76.97,506.6 77.47,506.85 77.96,506.43 78.46,506.94 78.96,506.41 79.45,506.39 79.95,506.42 80.44,506.89 80.94,506.07 81.44,506.56 81.93,506.42 82.43,506.4 82.92,505.98 83.42,507.12 83.92,506.02 84.41,506.33 84.91,506.94 85.4,505.84 85.9,506 86.4,506.42 86.89,506.89 87.39,506.62 87.88,506.73 88.38,505.62 88.88,506.83 89.37,506.07 89.87,507.49 90.36,506.29 90.86,505.76 91.36,506.45 91.85,507.19 92.35,506.54 92.84,506.18 93.34,506.5 93.84,506.5 94.33,506.36 94.83,506.4 95.32,506.88 95.82,506.22 96.32,505.99 96.81,506.03 97.31,506.87 97.8,506.43 98.3,505.7 98.8,507.04 99.29,506.21 99.79,506.73 100.28,506.08 100.78,506.48 101.28,506.02 101.77,506.11 102.27,506.64 102.76,506.39 103.26,506.76 103.76,506.21 104.25,506.75 104.75,507.24 105.24,506.96 105.74,506.08 106.24,506.45 106.73,506.68 107.23,507.09 107.72,507.52 108.22,506.66 108.72,506.7 109.21,507.5 109.71,506.83 110.2,506.31 110.7,506.75 111.2,506.83 111.69,506.58 112.19,506.51 112.68,505.75 113.38,504.16 113.68,505.02 114.17,506.26 114.67,507.44 115.16,507.47 115.66,506.89 116.16,506.99 116.65,507.23 117.15,507.36 117.64,506.35 118.14,506.76 118.64,507.4 119.13,507.56 119.63,505.59 120.12,504.12 120.62,499.78 120.92,497.08 121.61,503.64 122.11,505.79 122.6,506.06 123.1,506 123.6,506.52 124.09,507.06 124.59,507.17 125.08,506.73 125.58,506.39 126.08,506.95 126.57,507.21 127.07,507.22 127.56,506.47 128.06,507.05 128.56,506 129.05,507.17 129.55,508.15 130.04,507.44 130.54,507.55 131.04,507.12 131.53,506.45 132.03,507.47 132.52,506.75 133.02,506.11 133.52,506.56 134.01,506.38 134.51,505.48 135,505.21 135.5,505.37 136,506.85 136.49,506.55 136.99,507.01 137.48,506.86 137.98,504.56 138.48,500.05 138.87,497.08 139.47,501.67 139.96,506.56 140.46,506.35 140.96,506.64 141.45,506.97 141.95,507.26 142.44,507.51 142.94,507.14 143.44,506.97 143.93,507.32 144.43,506.74 144.92,507.49 145.42,506.6 145.92,507.34 146.41,506.79 146.91,507.28 147.4,505.8 147.9,508.07 148.4,506.29 148.89,506.74 149.39,506.49 149.88,507.8 150.38,507.35 150.88,508.05 151.37,507.19 151.87,507.22 152.36,507.18 152.86,507.37 153.36,507.69 153.85,507.08 154.35,506.34 154.84,506.91 155.34,507.43 155.84,506.87 156.33,506.79 156.83,507.54 157.32,507.38 157.82,506.64 158.32,506.88 158.81,507.7 159.31,507.29 159.8,507.61 160.3,506.45 160.8,507.27 161.29,507.43 161.79,507.72 162.28,506.22 162.78,507.01 163.28,506.6 163.77,507.31 164.27,506.52 164.76,507.04 165.26,507.34 165.76,507.04 166.25,506.94 166.75,506.7 167.24,506.7 167.74,508.24 168.24,507.02 168.73,507.66 169.23,506.94 169.72,506.77 170.22,507.05 170.72,507.23 171.21,506.78 171.71,506.99 172.2,507.58 172.7,506.72 173.2,506.66 173.69,506.93 174.19,506.85 174.68,507.26 175.18,507.23 175.68,507.08 176.17,507.61 176.67,506.45 177.16,506.82 177.66,506.35 178.16,507.29 178.65,506.49 179.15,508.04 179.64,507.17 180.14,506.56 180.64,507.13 181.13,507.57 181.63,506.62 182.12,507.2 182.62,506.89 183.12,507.07 183.61,507.18 184.11,507.06 184.6,508.27 185.1,508.07 185.6,505.83 186.09,507.66 186.59,507.09 187.08,506.8 187.58,506.11 188.08,506.62 188.57,506.91 189.07,507.06 189.56,507.66 190.06,508.08 190.56,507.25 191.05,507.12 191.55,506.23 192.04,506.89 192.54,507.23 193.04,507.46 193.53,506.7 194.03,507.11 194.52,506.34 195.02,506.08 195.52,506.64 196.01,506.91 196.51,506.77 197,506.44 197.5,507.41 198,507.01 198.49,507.19 198.99,507.18 199.48,506.19 199.98,507.08 200.48,506.82 200.97,506.34 201.47,507 201.96,506.24 202.46,506.88 202.96,506.29 203.45,506.52 203.95,505.97 204.44,504.68 204.94,504.96 205.44,504.18 205.93,503.01 206.43,503.13 206.92,502.69 207.42,502.45 207.92,503.37 208.41,503.13 208.91,503.14 209.4,503.27 209.9,504.46 210.4,505.51 210.89,505.7 211.39,507.36 211.88,506.51 212.38,507.26 212.88,506.56 213.37,506.34 213.87,507 214.36,507.15 214.86,506.75 215.36,507.67 215.85,507.11 216.35,507.29 216.84,507.21 217.34,505.83 217.84,506.96 218.33,507.4 218.83,507.91 219.32,506.8 219.82,507.49 220.32,506.6 220.81,505.96 221.31,506.94 221.8,507.19 222.3,507.46 222.8,507.49 223.29,506.48 223.79,506.99 224.28,507.39 224.78,507.51 225.28,507.12 225.77,506.11 226.27,507.27 226.76,507.43 227.26,506.91 227.76,508.11 228.25,507.57 228.75,506.7 229.24,506.89 229.74,506.96 230.24,506.41 230.73,508.05 231.23,506.86 231.72,507.21 232.22,507.24 232.72,507.55 233.21,506.88 233.71,506.13 234.2,506.94 234.7,506.99 235.2,507.26 235.69,506.89 236.19,507.63 236.68,506.7 237.18,508.16 237.68,507.21 238.17,507.37 238.67,507.07 239.16,507.2 239.66,507.13 240.16,507.25 240.65,507.34 241.15,507.61 241.64,507.06 242.14,506.88"/>
<polyline fill="none" stroke="#1a8c1a" stroke-width="1.3" stroke-linejoin="round" points="73.75,495.9 74.49,506.6 74.99,503.46 75.48,500.93 75.98,503.43 76.48,502.53 76.97,506.75 77.47,503.49 77.96,503.83 78.46,500.34 78.96,502.24 79.45,502.57 79.95,504.25 80.44,504.27 80.94,501.71 81.44,497.39 81.93,502.29 82.43,492.35 82.92,456.19 83.32,449.88 83.92,466.73 84.41,488.49 84.91,495.32 85.4,496.6 85.9,494.08 86.4,491.86 86.89,496 87.39,493.04 87.88,492.84 88.38,483.75 89.12,452.83 89.87,480.65 90.36,495.15 90.86,498.71 91.36,490.73 92.1,493.54 92.84,492.16 93.34,503.27 93.84,487.11 94.33,463.43 94.83,425.67 95.27,409.76 95.82,434.61 96.32,477.42 96.81,488.57 97.31,496.13 97.8,493.43 98.3,497.72 98.8,497.28 99.29,503.64 99.79,495.95 100.28,504.74 100.78,499.16 101.28,501.22 101.77,503.95 102.27,508.53 102.76,504.94 103.26,505.12 103.76,503.26 104.25,503.37 104.75,498.6 105.24,501.76 105.74,499.81 106.24,505.94 106.73,504.07 107.23,500.5 107.72,500.36 108.22,501.12 108.72,504.07 109.21,505.63 109.71,498.18 110.2,504.43 110.7,502.35 111.34,498.16 111.69,495.34 112.19,501.35 112.68,500.9 113.38,486.46 113.68,488.81 114.17,501.06 114.67,499.01 115.16,503.04 115.66,504.97 116.16,496.4 116.65,499.6 117.15,502.46 117.64,503.11 118.14,506.22 118.64,504.08 119.13,505.59 119.63,498.93 120.12,491.81 120.62,478.8 120.92,471.71 121.61,493.61 122.11,499.59 122.6,502.13 123.1,501.03 123.6,501.25 124.09,501.48 124.59,500.78 125.08,504.38 125.58,496.9 126.32,491.18 127.07,501.22 127.56,493.81 128.06,491.18 128.56,495.61 129.05,498.78 129.55,502.37 130.04,501.72 130.54,506.76 131.04,501.53 131.78,495.31 132.52,502.17 133.02,500.96 133.52,501.37 134.01,500.68 134.51,492.84 135,484.1 135.5,493.33 136,499.81 136.49,500.69 136.99,500.25 137.48,502.06 137.98,501 138.48,484.5 138.87,470.24 139.47,488.73 139.96,503.3 140.46,503.01 140.96,508.2 141.45,498.7 141.95,497.92 142.25,496.95 142.94,502.29 143.44,502.86 143.93,500.96 144.43,502.03 144.92,497.37 145.62,490 145.92,492.36 146.41,502.23 146.91,506.71 147.4,500.25 147.9,504.39 148.4,500.01 148.89,499.88 149.39,503.16 149.88,501.5 150.18,499.01 150.88,503.05 151.37,498.59 151.87,503.08 152.36,503.86 152.86,500.94 153.36,505.67 153.85,504.8 154.35,504.78 154.84,503.42 155.34,506.63 155.84,504.97 156.33,502.95 156.83,505.9 157.32,505.98 157.82,502.23 158.32,505.96 158.81,503.85 159.31,501.29 159.8,503.07 160.3,498.6 160.8,503.58 161.29,507.27 161.79,502.38 162.28,502.75 162.78,501.33 163.28,507.04 163.77,503.65 164.27,500.47 164.76,502.75 165.26,500.39 165.76,505.13 166.25,502.1 166.75,503.28 167.24,499.26 167.74,505.79 168.24,500.2 168.73,502.73 169.23,503.13 169.72,504.98 170.22,506.08 170.72,507.12 171.21,502.51 171.71,505.75 172.2,500.35 172.7,502.12 173.2,502.06 173.69,500.37 174.19,503.5 174.68,500.95 175.18,507.64 175.68,504.46 176.17,500.72 176.67,503.61 177.16,499.09 177.66,503.02 178.16,505.43 178.65,499.68 179.15,502.9 179.64,503.78 180.14,503.45 180.64,505.22 181.13,504.18 181.63,501.19 182.12,505 182.62,503.64 183.12,505.22 183.61,503.12 184.11,501.86 184.6,501.86 185.1,504.08 185.6,505.12 186.09,502.45 186.59,500.92 187.08,501.54 187.58,496.19 188.08,502.82 188.57,504.53 189.07,503.86 189.56,500.58 190.06,505.55 190.56,503.55 191.05,507.25 191.55,503.71 192.04,501.29 192.54,500.46 193.04,501.49 193.53,500.41 194.03,504.85 194.52,498.92 195.02,498.42 195.52,507.16 196.01,505.76 196.51,500.95 197,500.86 197.5,499.17 198,501.35 198.49,502.54 198.84,499.13 199.48,502.78 199.98,498.26 200.48,502.15 200.97,506.48 201.47,502.26 201.96,499.71 202.46,501.01 202.96,498.4 203.45,496.26 203.95,491.08 204.44,480.76 204.94,459.77 205.54,445.16 205.93,445.75 206.43,456.78 206.92,452.49 207.67,448.11 208.41,454.18 208.91,463.36 209.65,467.84 210.4,479.98 210.89,490.58 211.39,498.71 211.88,494.03 212.38,497.59 212.83,495.76 213.37,499.78 213.87,495.95 214.36,499.21 214.86,503.68 215.36,501.75 215.85,501.68 216.35,500.54 216.84,507.48 217.34,505.24 217.84,506.38 218.33,502.41 218.83,504.69 219.32,501.83 219.82,498.14 220.32,501.61 220.81,505.28 221.31,503.18 221.8,502.07 222.3,507.56 222.8,500.03 223.29,502.48 223.79,501.05 224.28,499.99 224.78,502.43 225.28,499.69 225.77,501.78 226.27,505.75 226.76,503.03 227.26,503.29 227.76,501.07 228.25,498.57 228.75,506.85 229.24,503.17 229.74,504.91 230.24,502.58 230.73,500.93 231.23,498.99 231.72,507.37 232.22,502.77 232.72,499.73 233.21,505.2 233.71,501.34 234.2,501.94 234.7,499.47 235.2,502.05 235.69,508.97 236.19,505.89 236.68,502.96 237.18,504.02 237.68,504.27 238.17,500.17 238.67,506.16 239.16,502.88 239.66,500.75 240.16,508.06 240.65,502.81 241.15,503.88 241.64,504.95 242.14,497.79"/>
<polyline fill="none" stroke="#8c1aff" stroke-width="1.3" stroke-linejoin="round" points="333.4,498.28 333.89,505.61 334.39,502.39 334.88,503.69 335.38,505.05 335.87,504.35 336.37,504.2 336.86,503.22 337.36,502.1 337.85,500.65 338.35,502.41 338.84,500.35 339.34,501.74 339.83,502.4 340.33,502.92 340.82,504.27 341.32,504.83 341.81,498.55 342.31,489.74 342.8,473.36 343.2,467 343.79,478.91 344.29,494.65 344.78,496.59 345.28,494.67 346.02,487.78 346.76,490.33 347.26,496.77 347.75,496.79 348.25,491.77 348.99,472.6 349.73,492.9 350.23,499.29 350.72,499.07 351.22,496.06 351.96,494.62 352.7,500.1 353.2,497.26 353.69,497.54 354.19,485.12 354.68,462.36 355.13,449 355.67,467.5 356.17,486.84 356.66,496.04 357.16,500.14 357.65,502.92 358.14,501.18 358.64,501.51 359.13,500.59 359.63,502.01 360.12,506.25 360.62,504.4 361.11,503.65 361.61,500.74 362.1,503.09 362.6,500.77 363.09,502.11 363.59,505.32 364.08,502.48 364.58,501.17 365.07,501.2 365.57,504.97 366.06,500.23 366.56,501.87 367.05,504.65 367.55,500.79 368.04,499.18 368.54,503.84 369.03,502.68 369.53,497.18 370.02,495.25 370.52,497.41 371.16,496.38 371.51,497.22 372,496.45 372.5,496.67 373.19,479.68 373.49,488.32 373.98,504.49 374.48,499.07 374.97,503.56 375.37,496.36 375.96,506.58 376.46,503.5 376.95,502.17 377.45,504.23 377.94,499.92 378.44,502.24 378.93,501.19 379.43,499.53 379.92,494.25 380.42,465.52 380.71,454.61 381.41,483.65 381.9,500.35 382.4,495.7 382.84,493.57 383.38,496.47 383.88,502.23 384.37,502.11 384.87,506.02 385.36,503.24 385.86,502.15 386.35,499.51 386.85,498.8 387.34,499.71 387.84,496.46 388.33,500.88 388.83,496.78 389.32,499.93 389.82,506.36 390.31,502.58 390.81,502.29 391.55,496.33 392.29,501.54 392.79,505.47 393.28,502.64 393.78,501.59 394.27,496.67 394.77,492.08 395.26,493.72 395.76,499.73 396.25,504.1 396.75,505.19 397.24,501.79 397.74,493.29 398.23,472.17 398.63,457.85 399.22,486.68 399.72,496.24 400.21,499.92 400.71,502.33 401.2,498.31 401.7,495.31 401.99,493.66 402.69,501.26 403.18,502.16 403.68,501.31 404.17,498.42 404.67,501.83 405.36,495.57 405.66,496.25 406.15,500.1 406.65,501.77 407.14,504.72 407.63,499.23 408.13,499.18 408.62,498.53 409.12,501.07 409.61,498.8 410.11,500.92 410.6,499.88 411.1,502.87 411.59,501.61 412.09,502.84 412.58,504.47 413.08,503.07 413.57,504.61 414.07,504.59 414.56,502.95 415.06,503.42 415.55,497.41 416.05,498.05 416.54,499.6 417.04,500.24 417.53,503.95 418.03,501.38 418.52,505.24 419.02,503.4 419.51,503.06 420.01,502.79 420.5,500.01 421,503.71 421.49,496.49 421.99,503.07 422.48,499.98 422.98,505.45 423.47,499.82 423.97,504.63 424.46,501.4 424.96,501.84 425.45,499.96 425.95,500.42 426.44,500.9 426.94,502.1 427.43,497.33 427.93,502.76 428.42,501.67 428.92,502.74 429.41,501.35 429.91,503.81 430.4,502.55 430.9,500.45 431.39,502.87 431.89,500.49 432.38,502.83 432.87,498.27 433.37,501.73 433.86,497.4 434.36,500.18 434.85,501.51 435.35,498.98 435.84,498.38 436.34,497.43 436.83,497.54 437.33,498.04 437.82,499.78 438.32,493.45 438.81,494.81 439.31,499.8 439.8,499.07 440.3,497.1 440.79,501.5 441.29,496.77 441.78,494.26 442.28,498.3 442.77,500.14 443.27,496.22 443.76,498.8 444.26,496.72 444.75,496.16 445.25,502.3 445.74,498.06 446.24,502.14 446.73,500.2 447.23,497.16 447.72,501.16 448.22,500.01 448.71,499.34 449.21,497.51 449.7,497.35 450.2,497.05 450.69,499.11 451.19,499.59 451.68,496.89 452.18,499.7 452.67,499.49 453.17,496.01 453.66,499.32 454.16,499.5 454.65,494.86 455.15,497.45 455.64,502.35 456.14,498.97 456.63,492.84 457.12,490.81 457.62,498.06 458.11,496.36 458.61,497.1 459.1,499.04 459.6,504.93 460.09,499.61 460.59,502.14 461.08,503.91 461.58,507.12 462.07,504.23 462.57,501.21 463.06,498.47 463.56,493.63 464.05,491.36 464.55,487.94 465.04,484.72 465.54,485.15 466.03,488.93 466.73,486.76 467.02,489.05 467.52,488.82 468.01,493.24 468.51,490.58 469,496.02 469.5,494.82 469.99,495.7 470.49,494.99 470.98,499.67 471.48,495.18 471.97,499.32 472.47,501.19 472.96,501.73 473.46,504.39 473.95,503.91 474.45,497.64 474.94,501.39 475.44,501.78 475.93,500.73 476.43,499.88 476.92,502.96 477.42,501.63 477.91,500.52 478.41,498.84 478.9,500.51 479.4,497.32 479.89,501.51 480.39,501.74 480.88,504.07 481.38,501 481.87,499.42 482.36,501.37 482.86,501.16 483.35,502.92 483.85,501.99 484.34,501.61 484.84,500.75 485.33,498.06 485.83,499.23 486.32,498.21 486.82,497.49 487.31,501.01 487.81,496.76 488.3,499.43 488.8,502.24 489.29,500.36 489.79,498.91 490.28,501.9 490.78,493.06 491.27,498.2 491.77,497.93 492.26,496.17 492.76,500.98 493.25,498.3 493.75,498.26 494.24,500.89 494.74,498.96 495.23,499.87 495.73,499.35 496.22,503.19 496.72,499.59 497.21,501.64 497.71,503.14 498.2,506.37 498.7,502.06 499.19,502.66 499.69,496.69 500.18,504.9 500.68,499.04 501.17,499.74 501.67,501.8"/>
<polyline fill="none" stroke="#8b0000" stroke-width="1.3" stroke-linejoin="round" points="333.4,508.36 333.89,508.11 334.39,507.81 334.88,508.28 335.38,508.38 335.87,508.02 336.37,508.96 336.86,507.44 337.36,507.64 337.85,507.73 338.35,507.94 338.84,507.62 339.34,507.63 339.83,508 340.33,508.34 340.82,508.27 341.32,508.06 341.81,508.45 342.31,507.79 342.8,507.61 343.3,508.61 343.79,507.6 344.29,508.25 344.78,508.1 345.28,508.16 345.77,508.31 346.27,508.29 346.76,508.02 347.26,508.61 347.75,507.61 348.25,508.69 348.74,508.07 349.24,507.98 349.73,508.55 350.23,508.25 350.72,508.33 351.22,508.53 351.71,508.48 352.21,507.21 352.7,507.43 353.2,508.15 353.69,507.83 354.19,507.78 354.68,507.7 355.18,507.62 355.67,507.82 356.17,508.52 356.66,507.69 357.16,508.95 357.65,507.8 358.14,508.2 358.64,508.31 359.13,507.55 359.63,508.45 360.12,507.34 360.62,508.14 361.11,507.73 361.61,508.06 362.1,508.2 362.6,506.91 363.09,507.07 363.59,507.87 364.08,507.81 364.58,508.12 365.07,507.46 365.57,507.25 366.06,507.19 366.56,508.21 367.05,508.11 367.55,508.69 368.04,508.02 368.54,507.95 369.03,508.59 369.53,508.61 370.02,507.53 370.52,508.16 371.01,507.74 371.51,507.99 372,508.28 372.5,507.91 372.99,507.73 373.49,507.95 373.98,508.22 374.48,508 374.97,507.81 375.47,507.84 375.96,507.29 376.46,507.85 376.95,507.82 377.45,508.21 377.94,508.56 378.44,508.63 378.93,507.99 379.43,507.63 379.92,507.49 380.42,508.47 380.91,508.53 381.41,508.51 381.9,508.32 382.4,508.16 382.89,508.29 383.38,508.66 383.88,507.66 384.37,507.88 384.87,508.24 385.36,507.17 385.86,508.15 386.35,507.4 386.85,508.37 387.34,507.84 387.84,508.88 388.33,508 388.83,508.22 389.32,508.34 389.82,507.78 390.31,507.69 390.81,508.59 391.3,507.89 391.8,507.63 392.29,508 392.79,507.16 393.28,508.33 393.78,508.27 394.27,507.9 394.77,507.91 395.26,507.07 395.76,507.72 396.25,507.47 396.75,508.14 397.24,508.2 397.74,507.42 398.23,507.88 398.73,507.51 399.22,507.83 399.72,507.55 400.21,508.08 400.71,508.07 401.2,507.82 401.7,508.12 402.19,507.66 402.69,507.52 403.18,507.57 403.68,508.53 404.17,508.39 404.67,507.75 405.16,507.8 405.66,507.95 406.15,508.02 406.65,508.52 407.14,507.44 407.63,507.96 408.13,507.71 408.62,508.2 409.12,508.24 409.61,508.21 410.11,507.65 410.6,508.18 411.1,507.42 411.59,508.07 412.09,508.7 412.58,507.84 413.08,508.02 413.57,508.05 414.07,506.79 414.56,507.79 415.06,508.67 415.55,507.96 416.05,507.79 416.54,508.14 417.04,507.14 417.53,508 418.03,508.39 418.52,508.37 419.02,508.57 419.51,508.04 420.01,507.81 420.5,507.76 421,508.6 421.49,507.76 421.99,508.64 422.48,508.4 422.98,507.55 423.47,508.6 423.97,507.34 424.46,507.55 424.96,507.55 425.45,508.52 425.95,507.26 426.44,507.91 426.94,508.24 427.43,507.7 427.93,507.97 428.42,507.31 428.92,508.17 429.41,508.08 429.91,508.27 430.4,507.89 430.9,507.56 431.39,508.56 431.89,508.12 432.38,507.26 432.87,507.71 433.37,507.98 433.86,507.35 434.36,508.14 434.85,507.68 435.35,507.8 435.84,508.21 436.34,508.84 436.83,508.02 437.33,507.69 437.82,508.58 438.32,507.97 438.81,507.42 439.31,508.35 439.8,507.94 440.3,507.91 440.79,508.61 441.29,507.66 441.78,508.27 442.28,507.8 442.77,507.74 443.27,508.04 443.76,508.64 444.26,508.26 444.75,508.32 445.25,508.14 445.74,508.07 446.24,507.37 446.73,507.6 447.23,507.56 447.72,507.63 448.22,508.08 448.71,507.76 449.21,507.82 449.7,508.84 450.2,508.1 450.69,507.78 451.19,508.2 451.68,507.95 452.18,507.91 452.67,508.02 453.17,508.25 453.66,508.01 454.16,506.6 454.65,507.98 455.15,508.27 455.64,508.58 456.14,507.91 456.63,508.72 457.12,508.47 457.62,508.39 458.11,508.08 458.61,507.82 459.1,508.1 459.6,508.67 460.09,508.04 460.59,508.59 461.08,507.49 461.58,507.7 462.07,507.28 462.57,507.57 463.06,507.68 463.56,507.98 464.05,508.81 464.55,508.17 465.04,508.12 465.54,508.18 466.03,508.04 466.53,508.28 467.02,508.2 467.52,507.66 468.01,507.92 468.51,508.27 469,508.15 469.5,507.7 469.99,507.99 470.49,507.71 470.98,508.19 471.48,507.83 471.97,508.01 472.47,507.79 472.96,508.56 473.46,508.31 473.95,507.96 474.45,507.55 474.94,508.92 475.44,508.67 475.93,507.8 476.43,508.04 476.92,507.3 477.42,508.25 477.91,507.96 478.41,507.73 478.9,508.34 479.4,508 479.89,508.16 480.39,507.61 480.88,508.5 481.38,508.13 481.87,507.58 482.36,507.9 482.86,507.84 483.35,507.09 483.85,507.86 484.34,507.83 484.84,508.19 485.33,507.75 485.83,507.95 486.32,508.1 486.82,507.49 487.31,508.24 487.81,508.02 488.3,508.32 488.8,508.29 489.29,508.03 489.79,507.97 490.28,508.51 490.78,508.02 491.27,507.64 491.77,507.83 492.26,507.98 492.76,509.35 493.25,508.86 493.75,507.7 494.24,508.22 494.74,508.34 495.23,507.51 495.73,508.73 496.22,507.94 496.72,507.88 497.21,507.61 497.71,507.68 498.2,508.12 498.7,508.18 499.19,508.41 499.69,508.78 500.18,507.98 500.68,507.47 501.17,508.09 501.67,507.67"/>
<text transform="translate(111.8 82.5) rotate(-90)" font-size="6.6" font-weight="bold" fill="#000" textLength="13.8" lengthAdjust="spacingAndGlyphs">1004</text>
<line x1="110.5" y1="85.5" x2="111.99" y2="90.42" stroke="#111" stroke-width="0.8" />
<polygon points="112.8,93.1 110.58,90.32 113.11,89.56" fill="#111"/>
<text transform="translate(121.1 51.6) rotate(-90)" font-size="6.6" font-weight="bold" fill="#000" textLength="13.8" lengthAdjust="spacingAndGlyphs">1156</text>
<line x1="118.6" y1="55" x2="119.88" y2="60.57" stroke="#111" stroke-width="0.8" />
<polygon points="120.5,63.3 118.48,60.38 121.05,59.79" fill="#111"/>
<text transform="translate(136.2 84.7) rotate(-90)" font-size="6.6" font-weight="bold" fill="#000" textLength="13.3" lengthAdjust="spacingAndGlyphs">1440</text>
<line x1="134.4" y1="87" x2="134.7" y2="89.72" stroke="#111" stroke-width="0.8" />
<polygon points="135,92.5 133.33,89.36 135.95,89.08" fill="#111"/>
<text transform="translate(143.5 51.1) rotate(-90)" font-size="6.6" font-weight="bold" fill="#000" textLength="13.3" lengthAdjust="spacingAndGlyphs">1518</text>
<line x1="140.2" y1="55" x2="139.71" y2="59.42" stroke="#111" stroke-width="0.8" />
<polygon points="139.4,62.2 138.45,58.77 141.08,59.07" fill="#111"/>
<text transform="translate(151.2 84.7) rotate(-90)" font-size="6.6" font-weight="bold" fill="#000" textLength="13.8" lengthAdjust="spacingAndGlyphs">1654</text>
<line x1="147.7" y1="89.2" x2="146.45" y2="92.67" stroke="#111" stroke-width="0.8" />
<polygon points="145.5,95.3 145.38,91.75 147.86,92.64" fill="#111"/>
<text transform="translate(194.2 105.8) rotate(-90)" font-size="6.6" font-weight="bold" fill="#000" textLength="13.3" lengthAdjust="spacingAndGlyphs">2727</text>
<line x1="193.7" y1="108.3" x2="194.72" y2="113.06" stroke="#111" stroke-width="0.8" />
<polygon points="195.3,115.8 193.32,112.85 195.9,112.3" fill="#111"/>
<text transform="translate(205.2 97.5) rotate(-90)" font-size="6.6" font-weight="bold" fill="#000" textLength="13.5" lengthAdjust="spacingAndGlyphs">2850</text>
<line x1="202.2" y1="100.5" x2="203.77" y2="106.3" stroke="#111" stroke-width="0.8" />
<polygon points="204.5,109 202.36,106.16 204.91,105.47" fill="#111"/>
<text transform="translate(213.2 97) rotate(-90)" font-size="6.6" font-weight="bold" fill="#000" textLength="13.7" lengthAdjust="spacingAndGlyphs">2888</text>
<line x1="209.7" y1="100" x2="208.48" y2="106.94" stroke="#111" stroke-width="0.8" />
<polygon points="208,109.7 207.27,106.22 209.87,106.68" fill="#111"/>
<text transform="translate(85 274.4) rotate(-90)" font-size="6.6" font-weight="bold" fill="#000" textLength="12.4" lengthAdjust="spacingAndGlyphs">398*</text>
<text transform="translate(91.8 273.3) rotate(-90)" font-size="6.6" font-weight="bold" fill="#000" textLength="12.8" lengthAdjust="spacingAndGlyphs">515*</text>
<text transform="translate(98.1 257.6) rotate(-90)" font-size="6.6" font-weight="bold" fill="#000" textLength="12.2" lengthAdjust="spacingAndGlyphs">639*</text>
<text transform="translate(104.2 279.4) rotate(-90)" font-size="6.6" font-weight="bold" fill="#000" textLength="10.6" lengthAdjust="spacingAndGlyphs">963</text>
<line x1="104.4" y1="280.5" x2="108.58" y2="284.96" stroke="#111" stroke-width="0.8" />
<polygon points="110.5,287 107.28,285.5 109.2,283.69" fill="#111"/>
<text transform="translate(110.7 271.6) rotate(-90)" font-size="6.6" font-weight="bold" fill="#000" textLength="13.8" lengthAdjust="spacingAndGlyphs">1004</text>
<line x1="110" y1="273.3" x2="112.2" y2="278.43" stroke="#111" stroke-width="0.8" />
<polygon points="113.3,281 110.79,278.49 113.21,277.45" fill="#111"/>
<text transform="translate(115.2 268.3) rotate(-90)" font-size="6.6" font-weight="bold" fill="#000" textLength="13.3" lengthAdjust="spacingAndGlyphs">1078</text>
<line x1="114" y1="270.5" x2="116.5" y2="280.09" stroke="#111" stroke-width="0.8" />
<polygon points="117.2,282.8 115.09,279.94 117.65,279.27" fill="#111"/>
<text transform="translate(121.2 259.5) rotate(-90)" font-size="6.6" font-weight="bold" fill="#000" textLength="11.5" lengthAdjust="spacingAndGlyphs">1156</text>
<line x1="118.5" y1="262" x2="119.99" y2="270.05" stroke="#111" stroke-width="0.8" />
<polygon points="120.5,272.8 118.6,269.8 121.2,269.31" fill="#111"/>
<text transform="translate(126.8 263.7) rotate(-90)" font-size="6.6" font-weight="bold" fill="#000" textLength="12.1" lengthAdjust="spacingAndGlyphs">1265</text>
<line x1="124" y1="266" x2="125.16" y2="275.52" stroke="#111" stroke-width="0.8" />
<polygon points="125.5,278.3 123.79,275.18 126.41,274.86" fill="#111"/>
<text transform="translate(130.9 270.1) rotate(-90)" font-size="6.6" font-weight="bold" fill="#000" textLength="12.9" lengthAdjust="spacingAndGlyphs">1300</text>
<line x1="128" y1="272" x2="128.2" y2="277.7" stroke="#111" stroke-width="0.8" />
<polygon points="128.3,280.5 126.86,277.25 129.5,277.16" fill="#111"/>
<text transform="translate(133.7 248.6) rotate(-90)" font-size="6.6" font-weight="bold" fill="#000" textLength="13.7" lengthAdjust="spacingAndGlyphs">1375</text>
<line x1="131.5" y1="252" x2="131.5" y2="281" stroke="#555" stroke-width="0.7" />
<text transform="translate(137.4 270.6) rotate(-90)" font-size="6.6" font-weight="bold" fill="#000" textLength="12" lengthAdjust="spacingAndGlyphs">1440</text>
<line x1="134.4" y1="272.5" x2="134.4" y2="272.9" stroke="#111" stroke-width="0.8" />
<polygon points="134.4,275.7 133.08,272.4 135.72,272.4" fill="#111"/>
<text transform="translate(142.9 262.7) rotate(-90)" font-size="6.6" font-weight="bold" fill="#000" textLength="12.9" lengthAdjust="spacingAndGlyphs">1518</text>
<line x1="139.5" y1="264.5" x2="139.5" y2="271" stroke="#333" stroke-width="0.7" />
<text transform="translate(147.6 272.9) rotate(-90)" font-size="6.6" font-weight="bold" fill="#000" textLength="12.5" lengthAdjust="spacingAndGlyphs">1586</text>
<line x1="144.5" y1="275" x2="144.28" y2="278.41" stroke="#111" stroke-width="0.8" />
<polygon points="144.1,281.2 143,277.82 145.63,277.99" fill="#111"/>
<text transform="translate(155 272) rotate(-90)" font-size="6.6" font-weight="bold" fill="#000" textLength="13" lengthAdjust="spacingAndGlyphs">1654</text>
<line x1="150" y1="274.5" x2="148.22" y2="277.83" stroke="#111" stroke-width="0.8" />
<polygon points="146.9,280.3 147.29,276.77 149.62,278.01" fill="#111"/>
<text transform="translate(197.7 294) rotate(-90)" font-size="6.6" font-weight="bold" fill="#000" textLength="14" lengthAdjust="spacingAndGlyphs">2727</text>
<line x1="195.8" y1="296.6" x2="197.2" y2="301.32" stroke="#111" stroke-width="0.8" />
<polygon points="198,304 195.79,301.21 198.32,300.46" fill="#111"/>
<text transform="translate(203.8 279) rotate(-90)" font-size="6.6" font-weight="bold" fill="#000" textLength="14.4" lengthAdjust="spacingAndGlyphs">2850</text>
<line x1="202" y1="282.4" x2="203.44" y2="286.37" stroke="#111" stroke-width="0.8" />
<polygon points="204.4,289 202.03,286.35 204.51,285.45" fill="#111"/>
<text transform="translate(213.4 278.6) rotate(-90)" font-size="6.6" font-weight="bold" fill="#000" textLength="14.5" lengthAdjust="spacingAndGlyphs">2888</text>
<line x1="209" y1="281.6" x2="207.92" y2="287.25" stroke="#111" stroke-width="0.8" />
<polygon points="207.4,290 206.72,286.51 209.31,287.01" fill="#111"/>
<text transform="translate(222.6 303.2) rotate(-90)" font-size="6.6" font-weight="bold" fill="#000" textLength="14.2" lengthAdjust="spacingAndGlyphs">3009</text>
<line x1="217.4" y1="305.7" x2="214.84" y2="309.23" stroke="#111" stroke-width="0.8" />
<polygon points="213.2,311.5 214.07,308.05 216.2,309.6" fill="#111"/>
<text transform="translate(344.5 305.2) rotate(-90)" font-size="6.6" font-weight="bold" fill="#000" textLength="13.1" lengthAdjust="spacingAndGlyphs">398*</text>
<text transform="translate(351.6 299.8) rotate(-90)" font-size="6.6" font-weight="bold" fill="#000" textLength="12.6" lengthAdjust="spacingAndGlyphs">515*</text>
<text transform="translate(357.6 283.9) rotate(-90)" font-size="6.6" font-weight="bold" fill="#000" textLength="12" lengthAdjust="spacingAndGlyphs">639*</text>
<text transform="translate(368 274.1) rotate(-90)" font-size="6.6" font-weight="bold" fill="#000" textLength="9.8" lengthAdjust="spacingAndGlyphs">963</text>
<line x1="367.8" y1="276.8" x2="368.85" y2="280.13" stroke="#111" stroke-width="0.8" />
<polygon points="369.7,282.8 367.45,280.05 369.96,279.26" fill="#111"/>
<text transform="translate(375 273.6) rotate(-90)" font-size="6.6" font-weight="bold" fill="#000" textLength="13.7" lengthAdjust="spacingAndGlyphs">1004</text>
<text transform="translate(383 255) rotate(-90)" font-size="6.6" font-weight="bold" fill="#000" textLength="15" lengthAdjust="spacingAndGlyphs">1156</text>
<text transform="translate(388 257.7) rotate(-90)" font-size="6.6" font-weight="bold" fill="#000" textLength="15" lengthAdjust="spacingAndGlyphs">1199</text>
<line x1="383.7" y1="260" x2="383.7" y2="263.8" stroke="#111" stroke-width="0.8" />
<polygon points="383.7,266.6 382.38,263.3 385.02,263.3" fill="#111"/>
<text transform="translate(392.9 244.4) rotate(-90)" font-size="6.6" font-weight="bold" fill="#000" textLength="14.4" lengthAdjust="spacingAndGlyphs">1440</text>
<line x1="392.8" y1="246.6" x2="393.09" y2="250.51" stroke="#111" stroke-width="0.8" />
<polygon points="393.3,253.3 391.74,250.11 394.37,249.91" fill="#111"/>
<text transform="translate(401.2 235.5) rotate(-90)" font-size="6.6" font-weight="bold" fill="#000" textLength="13.3" lengthAdjust="spacingAndGlyphs">1518</text>
<text transform="translate(406.8 233.3) rotate(-90)" font-size="6.6" font-weight="bold" fill="#000" textLength="13.3" lengthAdjust="spacingAndGlyphs">1586</text>
<line x1="402.7" y1="236.5" x2="402.7" y2="242.2" stroke="#111" stroke-width="0.8" />
<polygon points="402.7,245 401.38,241.7 404.02,241.7" fill="#111"/>
<text transform="translate(412.9 235.5) rotate(-90)" font-size="6.6" font-weight="bold" fill="#000" textLength="13.3" lengthAdjust="spacingAndGlyphs">1654</text>
<line x1="407.2" y1="238.9" x2="406.93" y2="241.12" stroke="#111" stroke-width="0.8" />
<polygon points="406.6,243.9 405.68,240.47 408.3,240.78" fill="#111"/>
<text transform="translate(462.8 222) rotate(-90)" font-size="6.6" font-weight="bold" fill="#000" textLength="14.7" lengthAdjust="spacingAndGlyphs">2850</text>
<line x1="462.6" y1="223.2" x2="463.83" y2="227.51" stroke="#111" stroke-width="0.8" />
<polygon points="464.6,230.2 462.42,227.39 464.96,226.66" fill="#111"/>
<text transform="translate(472.2 219.5) rotate(-90)" font-size="6.6" font-weight="bold" fill="#000" textLength="13.5" lengthAdjust="spacingAndGlyphs">2894</text>
<line x1="469.1" y1="222" x2="466.92" y2="227.59" stroke="#111" stroke-width="0.8" />
<polygon points="465.9,230.2 465.87,226.65 468.33,227.61" fill="#111"/>
<text transform="translate(84.9 447.2) rotate(-90)" font-size="6.6" font-weight="bold" fill="#000" textLength="13" lengthAdjust="spacingAndGlyphs">398*</text>
<text transform="translate(92.3 450) rotate(-90)" font-size="6.6" font-weight="bold" fill="#000" textLength="11.1" lengthAdjust="spacingAndGlyphs">515*</text>
<text transform="translate(97.4 407.2) rotate(-90)" font-size="6.6" font-weight="bold" fill="#000" textLength="13" lengthAdjust="spacingAndGlyphs">639*</text>
<text transform="translate(108.1 489.2) rotate(-90)" font-size="6.6" font-weight="bold" fill="#000" textLength="10.6" lengthAdjust="spacingAndGlyphs">963</text>
<line x1="108.4" y1="491.5" x2="109.15" y2="493.15" stroke="#111" stroke-width="0.8" />
<polygon points="110.3,495.7 107.74,493.24 110.14,492.15" fill="#111"/>
<text transform="translate(112.3 474) rotate(-90)" font-size="6.6" font-weight="bold" fill="#000" textLength="13.5" lengthAdjust="spacingAndGlyphs">1004</text>
<line x1="111.6" y1="476.7" x2="112.36" y2="479.97" stroke="#111" stroke-width="0.8" />
<polygon points="113,482.7 110.96,479.79 113.54,479.19" fill="#111"/>
<text transform="translate(120.6 458.8) rotate(-90)" font-size="6.6" font-weight="bold" fill="#000" textLength="13.8" lengthAdjust="spacingAndGlyphs">1156</text>
<line x1="118.9" y1="461" x2="120.19" y2="467.95" stroke="#111" stroke-width="0.8" />
<polygon points="120.7,470.7 118.8,467.7 121.4,467.21" fill="#111"/>
<text transform="translate(127.1 483.2) rotate(-90)" font-size="6.6" font-weight="bold" fill="#000" textLength="13" lengthAdjust="spacingAndGlyphs">1265</text>
<line x1="125.5" y1="486.4" x2="125.67" y2="487.82" stroke="#111" stroke-width="0.8" />
<polygon points="126,490.6 124.3,487.48 126.92,487.17" fill="#111"/>
<text transform="translate(130.1 454.7) rotate(-90)" font-size="6.6" font-weight="bold" fill="#000" textLength="13.9" lengthAdjust="spacingAndGlyphs">1300</text>
<line x1="128" y1="456.5" x2="128" y2="489.7" stroke="#777" stroke-width="0.7" />
<text transform="translate(135.2 460.7) rotate(-90)" font-size="6.6" font-weight="bold" fill="#000" textLength="13.9" lengthAdjust="spacingAndGlyphs">1375</text>
<line x1="131" y1="462.5" x2="131" y2="495.7" stroke="#444" stroke-width="0.7" />
<text transform="translate(136.8 477.6) rotate(-90)" font-size="6.6" font-weight="bold" fill="#000" textLength="14.3" lengthAdjust="spacingAndGlyphs">1440</text>
<line x1="135.2" y1="479.5" x2="135.2" y2="479.9" stroke="#111" stroke-width="0.8" />
<polygon points="135.2,482.7 133.88,479.4 136.52,479.4" fill="#111"/>
<text transform="translate(140.7 462) rotate(-90)" font-size="6.6" font-weight="bold" fill="#000" textLength="13.8" lengthAdjust="spacingAndGlyphs">1518</text>
<line x1="138.8" y1="464" x2="138.8" y2="465.2" stroke="#111" stroke-width="0.8" />
<polygon points="138.8,468 137.48,464.7 140.12,464.7" fill="#111"/>
<text transform="translate(147.2 457.4) rotate(-90)" font-size="6.6" font-weight="bold" fill="#000" textLength="13.8" lengthAdjust="spacingAndGlyphs">1586</text>
<line x1="144.2" y1="459.7" x2="144.2" y2="494.8" stroke="#777" stroke-width="0.7" />
<text transform="translate(152.4 479.5) rotate(-90)" font-size="6.6" font-weight="bold" fill="#000" textLength="13.9" lengthAdjust="spacingAndGlyphs">1654</text>
<line x1="149" y1="482.3" x2="147.72" y2="485.23" stroke="#111" stroke-width="0.8" />
<polygon points="146.6,487.8 146.71,484.25 149.13,485.3" fill="#111"/>
<text transform="translate(158.4 486) rotate(-90)" font-size="6.6" font-weight="bold" fill="#000" textLength="13.4" lengthAdjust="spacingAndGlyphs">1746</text>
<line x1="153.6" y1="491.5" x2="152.68" y2="493.98" stroke="#111" stroke-width="0.8" />
<polygon points="151.7,496.6 151.62,493.05 154.09,493.97" fill="#111"/>
<text transform="translate(196.1 488.7) rotate(-90)" font-size="6.6" font-weight="bold" fill="#000" textLength="15.1" lengthAdjust="spacingAndGlyphs">2727</text>
<line x1="194" y1="491.8" x2="194.57" y2="495.43" stroke="#111" stroke-width="0.8" />
<polygon points="195,498.2 193.19,495.14 195.79,494.74" fill="#111"/>
<text transform="translate(200.7 435.3) rotate(-90)" font-size="6.6" font-weight="bold" fill="#000" textLength="13.9" lengthAdjust="spacingAndGlyphs">2850</text>
<line x1="199.3" y1="437" x2="201.91" y2="441.13" stroke="#111" stroke-width="0.8" />
<polygon points="203.4,443.5 200.52,441.41 202.76,440" fill="#111"/>
<text transform="translate(212.2 433.2) rotate(-90)" font-size="6.6" font-weight="bold" fill="#000" textLength="13.5" lengthAdjust="spacingAndGlyphs">2888</text>
<line x1="209.6" y1="435.7" x2="208.76" y2="440.74" stroke="#111" stroke-width="0.8" />
<polygon points="208.3,443.5 207.54,440.03 210.14,440.46" fill="#111"/>
<text transform="translate(221 484.5) rotate(-90)" font-size="6.6" font-weight="bold" fill="#000" textLength="14.5" lengthAdjust="spacingAndGlyphs">3009</text>
<line x1="216" y1="487.3" x2="214.49" y2="490.21" stroke="#111" stroke-width="0.8" />
<polygon points="213.2,492.7 213.55,489.16 215.89,490.38" fill="#111"/>
<text transform="translate(344.9 465.6) rotate(-90)" font-size="6.6" font-weight="bold" fill="#000" textLength="13.4" lengthAdjust="spacingAndGlyphs">398*</text>
<text transform="translate(352.3 469.7) rotate(-90)" font-size="6.6" font-weight="bold" fill="#000" textLength="12.9" lengthAdjust="spacingAndGlyphs">515*</text>
<text transform="translate(357.8 446.6) rotate(-90)" font-size="6.6" font-weight="bold" fill="#000" textLength="12.9" lengthAdjust="spacingAndGlyphs">639*</text>
<text transform="translate(367.1 486.9) rotate(-90)" font-size="6.6" font-weight="bold" fill="#000" textLength="11.1" lengthAdjust="spacingAndGlyphs">963</text>
<line x1="367.9" y1="490.1" x2="368.48" y2="491.28" stroke="#111" stroke-width="0.8" />
<polygon points="369.7,493.8 367.07,491.41 369.44,490.26" fill="#111"/>
<text transform="translate(375.4 467.9) rotate(-90)" font-size="6.6" font-weight="bold" fill="#000" textLength="14.3" lengthAdjust="spacingAndGlyphs">1004</text>
<text transform="translate(379.2 487.4) rotate(-90)" font-size="6.6" font-weight="bold" fill="#000" textLength="13.4" lengthAdjust="spacingAndGlyphs">1048</text>
<line x1="376.2" y1="490" x2="376.2" y2="494.7" stroke="#111" stroke-width="0.8" />
<polygon points="376.2,497.5 374.88,494.2 377.52,494.2" fill="#111"/>
<text transform="translate(383.5 442.6) rotate(-90)" font-size="6.6" font-weight="bold" fill="#000" textLength="13.9" lengthAdjust="spacingAndGlyphs">1156</text>
<line x1="380.7" y1="445.3" x2="380.7" y2="449.9" stroke="#111" stroke-width="0.8" />
<polygon points="380.7,452.7 379.38,449.4 382.02,449.4" fill="#111"/>
<text transform="translate(386.5 483.7) rotate(-90)" font-size="6.6" font-weight="bold" fill="#000" textLength="13" lengthAdjust="spacingAndGlyphs">1199</text>
<line x1="382.6" y1="486" x2="382.6" y2="490.1" stroke="#111" stroke-width="0.8" />
<polygon points="382.6,492.9 381.28,489.6 383.92,489.6" fill="#111"/>
<text transform="translate(389.5 464.7) rotate(-90)" font-size="6.6" font-weight="bold" fill="#000" textLength="13.4" lengthAdjust="spacingAndGlyphs">1300</text>
<line x1="387.7" y1="466.6" x2="387.7" y2="498" stroke="#777" stroke-width="0.7" />
<text transform="translate(395.1 460.6) rotate(-90)" font-size="6.6" font-weight="bold" fill="#000" textLength="13.9" lengthAdjust="spacingAndGlyphs">1375</text>
<line x1="391.4" y1="462.4" x2="391.4" y2="494.7" stroke="#555" stroke-width="0.7" />
<text transform="translate(396.7 481.8) rotate(-90)" font-size="6.6" font-weight="bold" fill="#000" textLength="13.8" lengthAdjust="spacingAndGlyphs">1440</text>
<line x1="395.1" y1="484" x2="395.1" y2="490.1" stroke="#111" stroke-width="0.8" />
<polygon points="395.1,492.9 393.78,489.6 396.42,489.6" fill="#111"/>
<text transform="translate(401.1 447.2) rotate(-90)" font-size="6.6" font-weight="bold" fill="#000" textLength="13.9" lengthAdjust="spacingAndGlyphs">1518</text>
<line x1="398.6" y1="449.5" x2="398.6" y2="451.8" stroke="#111" stroke-width="0.8" />
<polygon points="398.6,454.6 397.28,451.3 399.92,451.3" fill="#111"/>
<text transform="translate(406.4 480) rotate(-90)" font-size="6.6" font-weight="bold" fill="#000" textLength="13.9" lengthAdjust="spacingAndGlyphs">1586</text>
<line x1="403" y1="482.5" x2="402.37" y2="487.22" stroke="#111" stroke-width="0.8" />
<polygon points="402,490 401.13,486.55 403.74,486.9" fill="#111"/>
<text transform="translate(412.6 485.3) rotate(-90)" font-size="6.6" font-weight="bold" fill="#000" textLength="13" lengthAdjust="spacingAndGlyphs">1654</text>
<line x1="408" y1="488" x2="407.13" y2="491.77" stroke="#111" stroke-width="0.8" />
<polygon points="406.5,494.5 405.96,490.99 408.53,491.58" fill="#111"/>
<text transform="translate(464 476) rotate(-90)" font-size="6.6" font-weight="bold" fill="#000" textLength="14.2" lengthAdjust="spacingAndGlyphs">2850</text>
<line x1="462.3" y1="477.9" x2="463.24" y2="482.56" stroke="#111" stroke-width="0.8" />
<polygon points="463.8,485.3 461.85,482.33 464.44,481.8" fill="#111"/>
<text transform="translate(473.2 471.4) rotate(-90)" font-size="6.6" font-weight="bold" fill="#000" textLength="13.8" lengthAdjust="spacingAndGlyphs">2894</text>
<line x1="468.8" y1="473.3" x2="467.52" y2="478.87" stroke="#111" stroke-width="0.8" />
<polygon points="466.9,481.6 466.35,478.09 468.92,478.68" fill="#111"/>
</svg></body></html>
